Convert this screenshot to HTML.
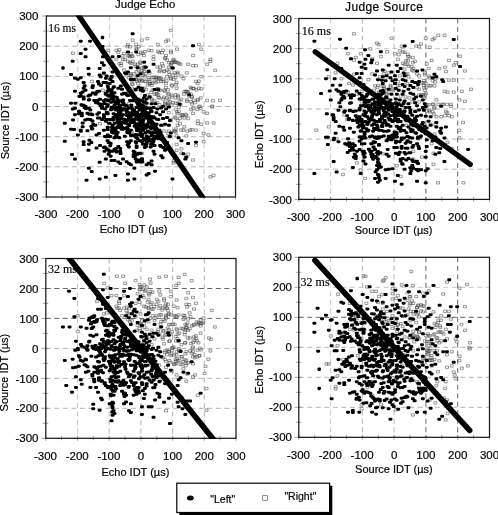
<!DOCTYPE html>
<html lang="en"><head><meta charset="utf-8"><title>Scatter plots: Judge Echo / Judge Source</title>
<style>html,body{margin:0;padding:0;background:#fff}body{width:498px;height:515px;overflow:hidden}svg{display:block}.s{font-family:"Liberation Sans",sans-serif;font-size:11px;fill:#000;stroke:#000;stroke-width:.18}.k{font-size:11.5px}.t{font-family:"Liberation Serif",serif;fill:#000;stroke:#000;stroke-width:.15}.g{stroke:#666;stroke-width:.5;stroke-dasharray:5 3.5;fill:none}.gl{stroke:#999;stroke-width:.55;stroke-dasharray:5 3.5;fill:none}.gd{stroke:#222;stroke-width:.7;stroke-dasharray:5 3.5;fill:none}.tk{stroke:#666;stroke-width:.6}.f{fill:#000;stroke:#000;stroke-width:2.3;stroke-linejoin:round}.o{fill:#fff;stroke:#3a3a3a;stroke-width:.5}</style></head><body>
<svg width="498" height="515" viewBox="0 0 498 515">
<rect width="498" height="515" fill="#fff"/>
<g id="tl">
<path class="gl" d="M77.8 16.0V197.0"/>
<path class="g" d="M46.3 166.8H235.5"/>
<path class="gl" d="M109.4 16.0V197.0"/>
<path class="g" d="M46.3 136.7H235.5"/>
<path class="gl" d="M140.9 16.0V197.0"/>
<path class="g" d="M46.3 106.5H235.5"/>
<path class="gl" d="M172.4 16.0V197.0"/>
<path class="g" d="M46.3 76.3H235.5"/>
<path class="gl" d="M204.0 16.0V197.0"/>
<path class="g" d="M46.3 46.2H235.5"/>
<rect x="47.2" y="20.2" width="31" height="14" fill="#fff"/>
<path class="tk" d="M41.8 197.0H48.8"/>
<path class="tk" d="M46.3 194.5V199.5"/>
<path class="tk" d="M43.3 181.9H48.8"/>
<path class="tk" d="M62.1 194.5V199.0"/>
<path class="tk" d="M41.8 166.8H48.8"/>
<path class="tk" d="M77.8 194.5V199.5"/>
<path class="tk" d="M43.3 151.8H48.8"/>
<path class="tk" d="M93.6 194.5V199.0"/>
<path class="tk" d="M41.8 136.7H48.8"/>
<path class="tk" d="M109.4 194.5V199.5"/>
<path class="tk" d="M43.3 121.6H48.8"/>
<path class="tk" d="M125.1 194.5V199.0"/>
<path class="tk" d="M41.8 106.5H48.8"/>
<path class="tk" d="M140.9 194.5V199.5"/>
<path class="tk" d="M43.3 91.4H48.8"/>
<path class="tk" d="M156.7 194.5V199.0"/>
<path class="tk" d="M41.8 76.3H48.8"/>
<path class="tk" d="M172.4 194.5V199.5"/>
<path class="tk" d="M43.3 61.3H48.8"/>
<path class="tk" d="M188.2 194.5V199.0"/>
<path class="tk" d="M41.8 46.2H48.8"/>
<path class="tk" d="M204.0 194.5V199.5"/>
<path class="tk" d="M43.3 31.1H48.8"/>
<path class="tk" d="M219.7 194.5V199.0"/>
<path class="tk" d="M41.8 16.0H48.8"/>
<path class="tk" d="M235.5 194.5V199.5"/>
<path class="o" d="M131.2 38.9h3v2.4h-3zm3.5 4.2h3v2.4h-3zm-8.3 0.6h3v2.4h-3zm2 1.9h3v2.4h-3zm-21.6 3.5h3v2.4h-3zm8.1 0h3v2.4h-3zm2.9 -0.6h3v2.4h-3zm-1 2.5h3v2.4h-3zm12.5 1.4h3v2.4h-3zm5.8 -3.9h3v2.4h-3zm-12.5 3.9h3v2.4h-3zm5.2 1.9h3v2.4h-3zm2.5 1h3v2.4h-3zm6.7 -1.9h3v2.4h-3zm-22.1 4.8h3v2.4h-3zm6.7 0h3v2.4h-3zm4.8 1.9h3v2.4h-3zm4.8 0h3v2.4h-3zm-13.4 2.5h3v2.4h-3zm1.9 1.9h3v2.4h-3zm16.4 -1.5h3v2.4h-3zm2.9 -1h3v2.4h-3zm-2.9 3.9h3v2.4h-3zm-64.6 -13.9h3v2.4h-3zm51.1 16.8h3v2.4h-3zm6.7 3.8h3v2.4h-3zm2.9 0h3v2.4h-3zm2.9 -1.9h3v2.4h-3zm-7.7 5.8h3v2.4h-3zm2.9 2.9h3v2.4h-3zm4.8 -1h3v2.4h-3zm2.9 1h3v2.4h-3zm-6.8 3.8h3v2.4h-3zm5.4 -0.9h3v2.4h-3zm-6.3 4.8h3v2.4h-3zm-39.9 -6.8h3v2.4h-3zm11 8.7h3v2.4h-3zm0.9 -16.4h3v2.4h-3zm3.9 3.9h3v2.4h-3zm21.2 26h3v2.4h-3zm41.9 -73.2h3v2.4h-3zm-23.5 8.1h3v2.4h-3zm-5.4 1.5h3v2.4h-3zm26.1 0h3v2.4h-3zm-2 1.3h3v2.4h-3zm-8.1 3.1h3v2.4h-3zm40.9 0h3v2.4h-3zm2.5 4.7h3v2.4h-3zm-52.6 1.1h3v2.4h-3zm2.9 0.4h3v2.4h-3zm-6.8 1h3v2.4h-3zm18.3 -1.4h3v2.4h-3zm-3.8 2.3h3v2.4h-3zm11.5 0h3v2.4h-3zm6.2 -3.4h3v2.4h-3zm-33.1 6.3h3v2.4h-3zm9.6 1h3v2.4h-3zm12.5 -1h3v2.4h-3zm27 0h3v2.4h-3zm-39.5 3.9h3v2.4h-3zm11.6 -1h3v2.4h-3zm8.6 1h3v2.4h-3zm36.7 0h3v2.4h-3zm0 1.9h3v2.4h-3zm-3.3 2.9h3v2.4h-3zm-38.2 -1.5h3v2.4h-3zm2.9 0h3v2.4h-3zm2.9 -0.4h3v2.4h-3zm2.9 0.4h3v2.4h-3zm2.9 1.5h3v2.4h-3zm7.7 0h3v2.4h-3zm4.8 1.5h3v2.4h-3zm2.9 0h3v2.4h-3zm-32.8 0.4h3v2.4h-3zm-2.9 1h3v2.4h-3zm-2.9 0h3v2.4h-3zm11.6 0h3v2.4h-3zm2.9 0.9h3v2.4h-3zm-27 -0.9h3v2.4h-3zm-2.9 0.9h3v2.4h-3zm73.3 2.4h3v2.4h-3zm-55.9 1.1h3v2.4h-3zm4.8 0h3v2.4h-3zm4.8 0.4h3v2.4h-3zm5.8 1h3v2.4h-3zm2.9 0.9h3v2.4h-3zm9.2 -0.9h3v2.4h-3zm-5.4 3.2h3v2.4h-3zm19.9 0.6h3v2.4h-3zm-59.4 -3.8h3v2.4h-3zm3.9 0.9h3v2.4h-3zm3.8 -0.9h3v2.4h-3zm-4.8 3.8h3v2.4h-3zm3.9 1h3v2.4h-3zm3.8 0h3v2.4h-3zm3.9 -0.4h3v2.4h-3zm2.9 1.4h3v2.4h-3zm3.8 0.5h3v2.4h-3zm3.9 -2.5h3v2.4h-3zm3.8 1.4h3v2.4h-3zm2.9 1.1h3v2.4h-3zm-31.8 1.4h3v2.4h-3zm3.9 0.9h3v2.4h-3zm3.8 0h3v2.4h-3zm4.9 -0.3h3v2.4h-3zm3.8 0.3h3v2.4h-3zm2.9 0h3v2.4h-3zm4.8 2h3v2.4h-3zm10.6 -1h3v2.4h-3zm19.3 -1h3v2.4h-3zm2.9 -0.3h3v2.4h-3zm-51.1 3.8h3v2.4h-3zm3.9 0.4h3v2.4h-3zm20.2 -0.4h3v2.4h-3zm-27.9 3.3h3v2.4h-3zm32.7 0h3v2.4h-3zm13.9 -1h3v2.4h-3zm3.1 1h3v2.4h-3zm5.2 0h3v2.4h-3zm2.5 0.6h3v2.4h-3zm-48.8 1.3h3v2.4h-3zm3.9 -0.4h3v2.4h-3zm3.8 0.4h3v2.4h-3zm3.9 0h3v2.4h-3zm3.9 -0.4h3v2.4h-3zm18.3 1.4h3v2.4h-3zm1.9 1.9h3v2.4h-3zm-4.2 1h3v2.4h-3zm-15.1 0h3v2.4h-3zm6.8 0.6h3v2.4h-3zm-21.2 -0.6h3v2.4h-3zm3.8 0.9h3v2.4h-3zm30.9 1h3v2.4h-3zm2.8 0.6h3v2.4h-3zm8.7 1.3h3v2.4h-3zm-2.9 1.4h3v2.4h-3zm9.3 1.1h3v2.4h-3zm5.8 0.4h3v2.4h-3zm7.1 -0.4h3v2.4h-3zm-32.8 0.8h3v2.4h-3zm3.9 0.6h3v2.4h-3zm3.8 0.9h3v2.4h-3zm-35.6 -4.8h3v2.4h-3zm3.8 1h3v2.4h-3zm3.9 -1h3v2.4h-3zm4.8 -0.9h3v2.4h-3zm3.9 0.9h3v2.4h-3zm3.8 2.9h3v2.4h-3zm-9.6 1h3v2.4h-3zm2.9 0.9h3v2.4h-3zm-7.7 1h3v2.4h-3zm2.9 1.4h3v2.4h-3zm31.8 1.1h3v2.4h-3zm12.5 0h3v2.4h-3zm-34.7 -2.5h3v2.4h-3zm2.9 1h3v2.4h-3zm-28.9 -5.8h3v2.4h-3zm2.9 1.9h3v2.4h-3zm2.8 1.9h3v2.4h-3zm-9.6 -7.7h3v2.4h-3zm-47.7 28.7h3v2.4h-3zm31.8 7.7h3v2.4h-3zm43.9 -21.9h3v2.4h-3zm15.4 0h3v2.4h-3zm7.7 -2.5h3v2.4h-3zm13.5 0h3v2.4h-3zm-43.4 5.7h3v2.4h-3zm8.7 1h3v2.4h-3zm15.4 -0.4h3v2.4h-3zm10.6 -1.5h3v2.4h-3zm3.5 1.5h3v2.4h-3zm-25.7 2h3v2.4h-3zm4.9 0h3v2.4h-3zm-2 2.7h3v2.4h-3zm3.9 0.5h3v2.4h-3zm-12.5 -0.5h3v2.4h-3zm1.9 2.5h3v2.4h-3zm-6.8 -1h3v2.4h-3zm27 1.5h3v2.4h-3zm0 2.7h3v2.4h-3zm3.5 0.6h3v2.4h-3zm5.8 -1.3h3v2.4h-3zm6.5 0h3v2.4h-3zm-36 2.3h3v2.4h-3zm6.7 1.5h3v2.4h-3zm-8.6 2.3h3v2.4h-3zm14.4 1h3v2.4h-3zm-2.9 1h3v2.4h-3zm-3.8 -1h3v2.4h-3zm12.5 0h3v2.4h-3zm-27 1h3v2.4h-3zm6.8 0.9h3v2.4h-3zm-11.6 -0.9h3v2.4h-3zm39.5 2.3h3v2.4h-3zm4.8 1.5h3v2.4h-3zm-22.1 1h3v2.4h-3zm-9.7 0h3v2.4h-3zm-7.7 0.9h3v2.4h-3zm34.7 4.9h3v2.4h-3zm-7.7 3.8h3v2.4h-3zm-19.3 -0.9h3v2.4h-3zm4.8 4.2h3v2.4h-3zm-4.8 1.5h3v2.4h-3zm11.6 3.9h3v2.4h-3zm-6.8 -1h3v2.4h-3zm4.9 3.9h3v2.4h-3zm6.7 2.9h3v2.4h-3zm-19.3 0.9h3v2.4h-3zm0 2h3v2.4h-3zm36.7 14h3v2.4h-3zm3.2 -1.5h3v2.4h-3zm-66.9 -51.1h3v2.4h-3zm-4.8 28.9h3v2.4h-3zm21.2 -27.9h3v2.4h-3zm-24.4 -78.7h3v2.4h-3zm-11.3 0h3v2.4h-3zm5.1 9.4h3v2.4h-3zm3.8 -7.5h3v2.4h-3zm-13.7 7.4h3v2.4h-3zm5.2 0h3v2.4h-3zm2.1 0.7h3v2.4h-3zm11 -3.9h3v2.4h-3zm-16.1 6.7h3v2.4h-3zm5.1 3h3v2.4h-3zm1.4 1h3v2.4h-3zm-10.2 -0.2h3v2.4h-3zm13.9 1h3v2.4h-3zm5.2 -2h3v2.4h-3zm-4.5 4.1h3v2.4h-3zm-5.9 9.3h3v2.4h-3zm1.3 -0.5h3v2.4h-3zm7.3 -5.2h3v2.4h-3zm-7.3 8.9h3v2.4h-3zm2.8 0.7h3v2.4h-3zm2 -0.5h3v2.4h-3zm6.2 2.1h3v2.4h-3zm-10.1 2.9h3v2.4h-3zm4.9 -2.8h3v2.4h-3zm5.8 -27.8h3v2.4h-3zm19.3 -0.8h3v2.4h-3zm-4 -1.2h3v2.4h-3zm12.9 -0.4h3v2.4h-3zm-5.6 6.9h3v2.4h-3zm1.8 2.1h3v2.4h-3zm7.3 1.5h3v2.4h-3zm-3.2 1.5h3v2.4h-3zm1.7 -2.6h3v2.4h-3zm3 1.6h3v2.4h-3zm3 1.5h3v2.4h-3zm-16.9 0.3h3v2.4h-3zm9.1 1.4h3v2.4h-3zm0.6 2h3v2.4h-3zm-28 1.1h3v2.4h-3zm0.7 -1.5h3v2.4h-3zm15.7 3.7h3v2.4h-3zm4.3 0.5h3v2.4h-3zm2.8 -0.9h3v2.4h-3zm6 4.9h3v2.4h-3zm4.4 -2.7h3v2.4h-3zm5.9 6.4h3v2.4h-3zm-41.9 -7.7h3v2.4h-3zm2.6 0.7h3v2.4h-3zm4.6 -0.9h3v2.4h-3zm-5.4 4.6h3v2.4h-3zm5.7 4.3h3v2.4h-3zm4.7 -2.5h3v2.4h-3zm2.2 0.2h3v2.4h-3zm2.7 0.5h3v2.4h-3zm2.1 0.1h3v2.4h-3zm8.6 -3.2h3v2.4h-3zm1.4 4h3v2.4h-3zm4.8 -1.1h3v2.4h-3zm-34.9 1.6h3v2.4h-3zm4.6 1.9h3v2.4h-3zm6.7 2.1h3v2.4h-3zm4.4 -4.6h3v2.4h-3zm-0.5 3.9h3v2.4h-3zm7.4 -1.2h3v2.4h-3zm3.2 -0.5h3v2.4h-3zm9.5 3.8h3v2.4h-3zm21.6 -1.4h3v2.4h-3zm-47.4 0.4h3v2.4h-3zm-0.6 -0.1h3v2.4h-3zm22.3 2.3h3v2.4h-3zm-25.7 3.6h3v2.4h-3zm45.1 -0.8h3v2.4h-3zm2.1 -0.1h3v2.4h-3zm3 1.2h3v2.4h-3zm-45.3 2.6h3v2.4h-3zm6.1 -3.6h3v2.4h-3zm1.1 0.1h3v2.4h-3zm6.5 2.3h3v2.4h-3zm1.2 -3.6h3v2.4h-3zm20.4 4h3v2.4h-3zm1.2 0.1h3v2.4h-3zm-3.1 -0.1h3v2.4h-3zm-16.6 2.3h3v2.4h-3zm10.2 1.6h3v2.4h-3zm-21.6 -1.5h3v2.4h-3zm0.4 -0.3h3v2.4h-3zm34.7 3.4h3v2.4h-3zm-0.6 -3h3v2.4h-3zm6.8 6.1h3v2.4h-3zm-11 -0.3h3v2.4h-3zm5.2 4.1h3v2.4h-3zm1.5 -3.7h3v2.4h-3zm-35 -2.8h3v2.4h-3zm5.5 -0.2h3v2.4h-3zm4.5 1.8h3v2.4h-3zm3.3 -3.6h3v2.4h-3zm6.3 1.4h3v2.4h-3zm3.1 2.5h3v2.4h-3zm-12.7 3.8h3v2.4h-3zm3.2 1.9h3v2.4h-3zm-6.6 -3h3v2.4h-3zm1.5 2.6h3v2.4h-3zm34.1 3.8h3v2.4h-3zm-24.9 -5.4h3v2.4h-3zm3.2 4.1h3v2.4h-3zm-29.3 -10.6h3v2.4h-3zm2.5 3.6h3v2.4h-3zm7.2 4.5h3v2.4h-3zm17.5 7.4h3v2.4h-3zm16.4 -3.5h3v2.4h-3zm3.9 0.7h3v2.4h-3zm-18.3 2h3v2.4h-3zm3.4 3.4h3v2.4h-3zm3.3 -0.3h3v2.4h-3zm-3 1h3v2.4h-3zm-8 1.8h3v2.4h-3zm5.4 1.3h3v2.4h-3zm0 5.3h3v2.4h-3zm-5 7h3v2.4h-3zm16.8 -1.1h3v2.4h-3zm-10.7 0.3h3v2.4h-3zm-12.9 3.3h3v2.4h-3zm5.9 -2h3v2.4h-3z"/>
<path class="f" d="M131.8 33.5h1.7v.7h-1.7zm-51.9 7.4h1.7v.7h-1.7zm9.3 0h1.7v.7h-1.7zm12.5 5.2h1.7v.7h-1.7zm-17 2.8h1.7v.7h-1.7zm-4.8 4.3h1.7v.7h-1.7zm4.8 3.3h1.7v.7h-1.7zm-12.9 4.4h1.7v.7h-1.7zm30.3 -4.4h1.7v.7h-1.7zm2.9 -2.3h1.7v.7h-1.7zm6.7 2.3h1.7v.7h-1.7zm6.4 -0.4h1.7v.7h-1.7zm9 -4.5h1.7v.7h-1.7zm8.2 0h1.7v.7h-1.7zm-34.2 10.8h1.7v.7h-1.7zm-13.5 5.7h1.7v.7h-1.7zm11.2 0h1.7v.7h-1.7zm4.2 -3.2h1.7v.7h-1.7zm27 2.5h1.7v.7h-1.7zm6.8 0h1.7v.7h-1.7zm-33.8 5.2h1.7v.7h-1.7zm8.7 -1h1.7v.7h-1.7zm12.5 1h1.7v.7h-1.7zm2.9 -1h1.7v.7h-1.7zm-56.9 2.5h1.7v.7h-1.7zm3.9 3.7h1.7v.7h-1.7zm2.9 1.1h1.7v.7h-1.7zm2.9 -1.5h1.7v.7h-1.7zm8.1 -3.5h1.7v.7h-1.7zm11.8 2.5h1.7v.7h-1.7zm5.2 1.4h1.7v.7h-1.7zm5.7 -0.8h1.7v.7h-1.7zm-27.9 5.2h1.7v.7h-1.7zm14.4 -1h1.7v.7h-1.7zm7.8 1h1.7v.7h-1.7zm3.8 1h1.7v.7h-1.7zm2.9 -2h1.7v.7h-1.7zm-27.9 4.3h1.7v.7h-1.7zm8.2 0h1.7v.7h-1.7zm8.1 -0.4h1.7v.7h-1.7zm6.8 1h1.7v.7h-1.7zm5.8 0.9h1.7v.7h-1.7zm4.8 1h1.7v.7h-1.7zm3.7 1h1.7v.7h-1.7zm-47.1 1.9h1.7v.7h-1.7zm5.8 1.9h1.7v.7h-1.7zm4.8 -2.9h1.7v.7h-1.7zm11 2.5h1.7v.7h-1.7zm2.5 -1.5h1.7v.7h-1.7zm8.7 0h1.7v.7h-1.7zm3.8 0.9h1.7v.7h-1.7zm2 1h1.7v.7h-1.7zm-7.7 1h1.7v.7h-1.7zm-25.1 1.9h1.7v.7h-1.7zm2.9 1h1.7v.7h-1.7zm4.8 -1h1.7v.7h-1.7zm1.9 -1h1.7v.7h-1.7zm19.3 0h1.7v.7h-1.7zm2.9 1h1.7v.7h-1.7zm2.9 1h1.7v.7h-1.7zm6.6 -2.9h1.7v.7h-1.7zm5 0.9h1.7v.7h-1.7zm-38.2 4.9h1.7v.7h-1.7zm5.4 0.5h1.7v.7h-1.7zm2.8 0.4h1.7v.7h-1.7zm3 -1.5h1.7v.7h-1.7zm3.8 1.5h1.7v.7h-1.7zm4.9 -0.9h1.7v.7h-1.7zm4.8 0.9h1.7v.7h-1.7zm5.8 0h1.7v.7h-1.7zm3.7 -0.9h1.7v.7h-1.7zm-52 3.2h1.7v.7h-1.7zm4.3 0h1.7v.7h-1.7zm8.3 2h1.7v.7h-1.7zm1.9 1.4h1.7v.7h-1.7zm13.5 -2.8h1.7v.7h-1.7zm2.9 1h1.7v.7h-1.7zm5.8 0h1.7v.7h-1.7zm6.7 0.8h1.7v.7h-1.7zm3.9 -1.8h1.7v.7h-1.7zm4.7 1h1.7v.7h-1.7zm9.6 -3.9h1.7v.7h-1.7zm2 -3.8h1.7v.7h-1.7zm3 1.9h1.7v.7h-1.7zm-2 -9.6h1.7v.7h-1.7zm2.9 -2h1.7v.7h-1.7zm2 2.9h1.7v.7h-1.7zm-9.7 -10.7h1.7v.7h-1.7zm2.8 0h1.7v.7h-1.7zm-7.6 -5.7h1.7v.7h-1.7zm11.6 2h1.7v.7h-1.7zm2.9 -2h1.7v.7h-1.7zm52.5 -28h1.7v.7h-1.7zm-48.9 16.4h1.7v.7h-1.7zm9.4 2h1.7v.7h-1.7zm-4.9 7.3h1.7v.7h-1.7zm-6.7 16.8h1.7v.7h-1.7zm1 2.9h1.7v.7h-1.7zm11.6 -1.7h1.7v.7h-1.7zm3.8 0.3h1.7v.7h-1.7zm-14.4 8.1h1.7v.7h-1.7zm2.7 1h1.7v.7h-1.7zm3 -1.9h1.7v.7h-1.7zm-7.7 3.8h1.7v.7h-1.7zm2.9 1h1.7v.7h-1.7zm6.8 1.9h1.7v.7h-1.7zm3.8 0h1.7v.7h-1.7zm-12.5 1.8h1.7v.7h-1.7zm20.1 0.7h1.7v.7h-1.7zm16.5 -1.9h1.7v.7h-1.7zm9.6 -9.6h1.7v.7h-1.7zm-16.3 -26.7h1.7v.7h-1.7zm-27 -0.9h1.7v.7h-1.7zm-70.9 41.2h1.7v.7h-1.7zm9.7 -0.8h1.7v.7h-1.7zm5.7 2.4h1.7v.7h-1.7zm11.6 -1.6h1.7v.7h-1.7zm2.9 0.6h1.7v.7h-1.7zm8.7 -1h1.7v.7h-1.7zm2.9 2h1.7v.7h-1.7zm3.8 -2.4h1.7v.7h-1.7zm4.8 1.4h1.7v.7h-1.7zm3.9 -1h1.7v.7h-1.7zm3.7 1.6h1.7v.7h-1.7zm4 -2h1.7v.7h-1.7zm2.9 2.4h1.7v.7h-1.7zm-64.6 4.8h1.7v.7h-1.7zm3.9 -1h1.7v.7h-1.7zm2.9 -0.4h1.7v.7h-1.7zm5.7 0h1.7v.7h-1.7zm4.9 1.4h1.7v.7h-1.7zm6.7 -2h1.7v.7h-1.7zm4.8 2h1.7v.7h-1.7zm3.9 -1h1.7v.7h-1.7zm5.8 0h1.7v.7h-1.7zm2.9 1h1.7v.7h-1.7zm3.8 -2h1.7v.7h-1.7zm2.8 2h1.7v.7h-1.7zm4 -1.4h1.7v.7h-1.7zm3.8 0.8h1.7v.7h-1.7zm3.8 -1.4h1.7v.7h-1.7zm3.9 2h1.7v.7h-1.7zm-65.5 5.2h1.7v.7h-1.7zm14.4 -0.8h1.7v.7h-1.7zm2.9 0.4h1.7v.7h-1.7zm7.7 -1.5h1.7v.7h-1.7zm5.8 0h1.7v.7h-1.7zm2.9 1.5h1.7v.7h-1.7zm6.8 -2h1.7v.7h-1.7zm3.8 1.6h1.7v.7h-1.7zm3.9 -1.6h1.7v.7h-1.7zm3.8 2h1.7v.7h-1.7zm3.9 -1.5h1.7v.7h-1.7zm4.7 1.1h1.7v.7h-1.7zm4 -1.6h1.7v.7h-1.7zm2.9 2.4h1.7v.7h-1.7zm-75.8 3.4h1.7v.7h-1.7zm17.9 -0.3h1.7v.7h-1.7zm10.6 1.3h1.7v.7h-1.7zm2 1h1.7v.7h-1.7zm14.4 -2h1.7v.7h-1.7zm2.9 2h1.7v.7h-1.7zm4.8 -2.9h1.7v.7h-1.7zm3.9 1.3h1.7v.7h-1.7zm3.8 -0.7h1.7v.7h-1.7zm3.9 1.3h1.7v.7h-1.7zm3.7 -1.9h1.7v.7h-1.7zm4 1.3h1.7v.7h-1.7zm3.9 -0.4h1.7v.7h-1.7zm-69.5 5.8h1.7v.7h-1.7zm3 0.4h1.7v.7h-1.7zm8.6 -2.7h1.7v.7h-1.7zm-1.9 3.3h1.7v.7h-1.7zm6.7 0.5h1.7v.7h-1.7zm4.9 -2h1.7v.7h-1.7zm11.5 1.5h1.7v.7h-1.7zm3.9 -2.9h1.7v.7h-1.7zm4.8 2.9h1.7v.7h-1.7zm2.9 -1.5h1.7v.7h-1.7zm3.9 -1.4h1.7v.7h-1.7zm3.7 1.9h1.7v.7h-1.7zm4 -1.6h1.7v.7h-1.7zm3.8 2.6h1.7v.7h-1.7zm3.8 -3.9h1.7v.7h-1.7zm3.9 1.9h1.7v.7h-1.7zm-60.7 6.8h1.7v.7h-1.7zm18.7 0h1.7v.7h-1.7zm2.5 -1.5h1.7v.7h-1.7zm8.7 1.5h1.7v.7h-1.7zm-1 1.9h1.7v.7h-1.7zm6.8 -3.8h1.7v.7h-1.7zm2.9 1.9h1.7v.7h-1.7zm12.5 -1.9h1.7v.7h-1.7zm5.7 2.9h1.7v.7h-1.7zm3.9 -1h1.7v.7h-1.7zm2 -2.9h1.7v.7h-1.7zm-75.8 9.3h1.7v.7h-1.7zm18.9 0.3h1.7v.7h-1.7zm0 2.9h1.7v.7h-1.7zm5.8 -4.2h1.7v.7h-1.7zm1.9 2.2h1.7v.7h-1.7zm17.4 0h1.7v.7h-1.7zm1.9 1h1.7v.7h-1.7zm3.8 -5.7h1.7v.7h-1.7zm4.9 0h1.7v.7h-1.7zm7.7 3.8h1.7v.7h-1.7zm3.8 -1h1.7v.7h-1.7zm4.8 1h1.7v.7h-1.7zm3.9 -1h1.7v.7h-1.7zm-51.1 9.7h1.7v.7h-1.7zm8.1 -2.3h1.7v.7h-1.7zm3.5 -2.5h1.7v.7h-1.7zm3.8 1.9h1.7v.7h-1.7zm2.9 1.4h1.7v.7h-1.7zm2 1.5h1.7v.7h-1.7zm5.7 -0.9h1.7v.7h-1.7zm3.9 -2.9h1.7v.7h-1.7zm1.9 1.9h1.7v.7h-1.7zm-3.8 3.5h1.7v.7h-1.7zm3.8 -0.6h1.7v.7h-1.7zm8.7 -4.4h1.7v.7h-1.7zm7.7 0.5h1.7v.7h-1.7zm-64.6 7.1h1.7v.7h-1.7zm2.9 4.5h1.7v.7h-1.7zm24.7 3.3h1.7v.7h-1.7zm6.2 -3.3h1.7v.7h-1.7zm4.8 -2.9h1.7v.7h-1.7zm0.9 4.3h1.7v.7h-1.7zm2.9 0h1.7v.7h-1.7zm3.9 1.5h1.7v.7h-1.7zm1.9 1.5h1.7v.7h-1.7zm2.8 -4.4h1.7v.7h-1.7zm5.9 4.4h1.7v.7h-1.7zm1.9 1.4h1.7v.7h-1.7zm3.8 -12.5h1.7v.7h-1.7zm3 1.8h1.7v.7h-1.7zm-4 2.4h1.7v.7h-1.7zm2 2.5h1.7v.7h-1.7zm3.9 -5.9h1.7v.7h-1.7zm1 8.8h1.7v.7h-1.7zm-3.9 0h1.7v.7h-1.7zm-47.8 6.2h1.7v.7h-1.7zm2.9 3.4h1.7v.7h-1.7zm23.7 3.9h1.7v.7h-1.7zm12.5 -1.5h1.7v.7h-1.7zm6.4 -5.8h1.7v.7h-1.7zm-47.8 12h1.7v.7h-1.7zm13.1 -1.2h1.7v.7h-1.7zm6.2 -1.6h1.7v.7h-1.7zm22.1 2.8h1.7v.7h-1.7zm6.4 -1.2h1.7v.7h-1.7zm7.6 -71h1.7v.7h-1.7zm3.9 -0.9h1.7v.7h-1.7zm3.8 1.3h1.7v.7h-1.7zm3.9 -0.8h1.7v.7h-1.7zm3.8 1.4h1.7v.7h-1.7zm3.8 -1h1.7v.7h-1.7zm4.9 1h1.7v.7h-1.7zm2.9 -1.9h1.7v.7h-1.7zm-26 4.8h1.7v.7h-1.7zm4.7 0.9h1.7v.7h-1.7zm4 -1.3h1.7v.7h-1.7zm4.8 1.3h1.7v.7h-1.7zm3.7 2h1.7v.7h-1.7zm2.9 -2.9h1.7v.7h-1.7zm-21.1 4.7h1.7v.7h-1.7zm3.9 1h1.7v.7h-1.7zm4.8 -1h1.7v.7h-1.7zm3.9 1.5h1.7v.7h-1.7zm3.8 1.5h1.7v.7h-1.7zm4.7 -1h1.7v.7h-1.7zm4 -1h1.7v.7h-1.7zm2.9 3h1.7v.7h-1.7zm-27 0.9h1.7v.7h-1.7zm5.7 1h1.7v.7h-1.7zm3.9 0.9h1.7v.7h-1.7zm3.9 1h1.7v.7h-1.7zm4.7 1h1.7v.7h-1.7zm3.9 -1h1.7v.7h-1.7zm3.9 1h1.7v.7h-1.7zm-27 0.9h1.7v.7h-1.7zm4.7 1h1.7v.7h-1.7zm4 0.9h1.7v.7h-1.7zm4.8 1h1.7v.7h-1.7zm3.9 1h1.7v.7h-1.7zm-16.4 0h1.7v.7h-1.7zm4.7 1h1.7v.7h-1.7zm4.9 0.9h1.7v.7h-1.7zm4.8 1h1.7v.7h-1.7zm-15.4 1.9h1.7v.7h-1.7zm4.7 1h1.7v.7h-1.7zm5 -1h1.7v.7h-1.7zm4.8 1.9h1.7v.7h-1.7zm4.7 -1.9h1.7v.7h-1.7zm-17.2 3.9h1.7v.7h-1.7zm4.7 0.8h1.7v.7h-1.7zm4.9 1h1.7v.7h-1.7zm4.8 -1.8h1.7v.7h-1.7zm5.7 1.8h1.7v.7h-1.7zm-22.1 1h1.7v.7h-1.7zm4.7 0.9h1.7v.7h-1.7zm5 -0.9h1.7v.7h-1.7zm15.4 0.9h1.7v.7h-1.7zm-22.2 4.9h1.7v.7h-1.7zm5.8 -0.5h1.7v.7h-1.7zm3.9 -1.4h1.7v.7h-1.7zm5.6 0h1.7v.7h-1.7zm2.9 1.9h1.7v.7h-1.7zm-9.5 3.9h1.7v.7h-1.7zm1 2.8h1.7v.7h-1.7zm10.5 -3.8h1.7v.7h-1.7zm-3.9 5.3h1.7v.7h-1.7zm1.5 2h1.7v.7h-1.7zm-20.7 1.4h1.7v.7h-1.7zm0.4 2.9h1.7v.7h-1.7zm9.3 -1h1.7v.7h-1.7zm-5 3.9h1.7v.7h-1.7zm5 0h1.7v.7h-1.7zm3.4 6.3h1.7v.7h-1.7zm-6.4 2.4h1.7v.7h-1.7zm-2 1.5h1.7v.7h-1.7zm25.8 3.9h1.7v.7h-1.7zm-1.6 -45.9h1.7v.7h-1.7zm-0.9 3.5h1.7v.7h-1.7zm8.7 1.3h1.7v.7h-1.7zm2.8 2.8h1.7v.7h-1.7zm6.7 2.9h1.7v.7h-1.7zm7.8 -1.4h1.7v.7h-1.7zm-12.5 11.7h1.7v.7h-1.7zm2.9 3.3h1.7v.7h-1.7zm-1 1.9h1.7v.7h-1.7zm-85.6 -84.1h1.7v.7h-1.7zm6.9 1h1.7v.7h-1.7zm5.1 0.6h1.7v.7h-1.7zm-8.2 6h1.7v.7h-1.7zm3.7 0.7h1.7v.7h-1.7zm3.1 -3.8h1.7v.7h-1.7zm-17.9 8.1h1.7v.7h-1.7zm6.5 -3.5h1.7v.7h-1.7zm9.5 4.7h1.7v.7h-1.7zm5.5 -1.9h1.7v.7h-1.7zm6.9 -0.9h1.7v.7h-1.7zm-38.2 6.1h1.7v.7h-1.7zm1.1 -3.8h1.7v.7h-1.7zm11.8 6.1h1.7v.7h-1.7zm1.8 -2.8h1.7v.7h-1.7zm11.1 -1h1.7v.7h-1.7zm3.3 -0.7h1.7v.7h-1.7zm-2.5 0.7h1.7v.7h-1.7zm5.2 2.2h1.7v.7h-1.7zm-1.9 0.8h1.7v.7h-1.7zm-6.9 -0.4h1.7v.7h-1.7zm1.7 2h1.7v.7h-1.7zm-27.9 1.3h1.7v.7h-1.7zm4.3 2.6h1.7v.7h-1.7zm5.9 -4.1h1.7v.7h-1.7zm3.2 -1.9h1.7v.7h-1.7zm16.4 3.3h1.7v.7h-1.7zm1.5 -0.4h1.7v.7h-1.7zm2.3 2h1.7v.7h-1.7zm3.8 -0.5h1.7v.7h-1.7zm7.2 -4.3h1.7v.7h-1.7zm4 2.4h1.7v.7h-1.7zm-38.8 4.2h1.7v.7h-1.7zm6.8 3h1.7v.7h-1.7zm1 -1h1.7v.7h-1.7zm0.7 -1.4h1.7v.7h-1.7zm6.9 3.1h1.7v.7h-1.7zm0.9 -3.7h1.7v.7h-1.7zm2.5 1.1h1.7v.7h-1.7zm-1.8 -1.1h1.7v.7h-1.7zm5.6 -0.9h1.7v.7h-1.7zm-0.6 3.4h1.7v.7h-1.7zm6.2 -2.7h1.7v.7h-1.7zm5.1 2.3h1.7v.7h-1.7zm-41.1 3h1.7v.7h-1.7zm4.4 3.7h1.7v.7h-1.7zm14.9 -3h1.7v.7h-1.7zm0 -1.2h1.7v.7h-1.7zm6.3 2.4h1.7v.7h-1.7zm9.8 -2.9h1.7v.7h-1.7zm-0.2 -1.5h1.7v.7h-1.7zm0.3 1.2h1.7v.7h-1.7zm6.7 0h1.7v.7h-1.7zm6.4 -3.1h1.7v.7h-1.7zm4 -3.1h1.7v.7h-1.7zm6 2.6h1.7v.7h-1.7zm-4.4 -10h1.7v.7h-1.7zm9.2 5.6h1.7v.7h-1.7zm-0.8 6.8h1.7v.7h-1.7zm2.6 1h1.7v.7h-1.7zm-4.3 1.8h1.7v.7h-1.7zm-69.5 3.9h1.7v.7h-1.7zm9.5 -3.7h1.7v.7h-1.7zm6.5 2.8h1.7v.7h-1.7zm12.2 -2.1h1.7v.7h-1.7zm1.2 1.1h1.7v.7h-1.7zm9.2 0.1h1.7v.7h-1.7zm-0.4 2.6h1.7v.7h-1.7zm6 -1.7h1.7v.7h-1.7zm-2 1h1.7v.7h-1.7zm4.5 -3.6h1.7v.7h-1.7zm2.5 4.6h1.7v.7h-1.7zm2.8 -1.3h1.7v.7h-1.7zm1.9 -3h1.7v.7h-1.7zm5.2 2.5h1.7v.7h-1.7zm6.4 -2.6h1.7v.7h-1.7zm-1.3 6.5h1.7v.7h-1.7zm2.6 -4.1h1.7v.7h-1.7zm-60.6 3.1h1.7v.7h-1.7zm2.8 4.6h1.7v.7h-1.7zm7.5 -1.5h1.7v.7h-1.7zm1.7 -0.3h1.7v.7h-1.7zm6.3 0.1h1.7v.7h-1.7zm6.7 2.1h1.7v.7h-1.7zm2.8 -3.9h1.7v.7h-1.7zm8.2 3.9h1.7v.7h-1.7zm3.2 0.1h1.7v.7h-1.7zm-0.2 -0.4h1.7v.7h-1.7zm0.8 -3.1h1.7v.7h-1.7zm0.6 -2.5h1.7v.7h-1.7zm1.2 3.2h1.7v.7h-1.7zm1.2 2.2h1.7v.7h-1.7zm7.6 -2.7h1.7v.7h-1.7zm-0.1 2.8h1.7v.7h-1.7zm3.8 -2.4h1.7v.7h-1.7zm-3.8 -0.7h1.7v.7h-1.7zm3.7 -1.5h1.7v.7h-1.7zm2.3 3.6h1.7v.7h-1.7zm5 -0.3h1.7v.7h-1.7zm-1 1.8h1.7v.7h-1.7zm-54.1 3.6h1.7v.7h-1.7zm7.2 1.1h1.7v.7h-1.7zm6.9 -3.1h1.7v.7h-1.7zm2.7 1.6h1.7v.7h-1.7zm3.8 1.6h1.7v.7h-1.7zm10.2 -4h1.7v.7h-1.7zm-3 2.8h1.7v.7h-1.7zm5.5 -2.5h1.7v.7h-1.7zm-3.1 -0.1h1.7v.7h-1.7zm7.9 1.9h1.7v.7h-1.7zm-3.9 0.1h1.7v.7h-1.7zm8.1 1h1.7v.7h-1.7zm-3.3 -0.5h1.7v.7h-1.7zm2.8 -4.3h1.7v.7h-1.7zm4.3 3.3h1.7v.7h-1.7zm2.5 2.6h1.7v.7h-1.7zm-0.4 -0.4h1.7v.7h-1.7zm5.9 -4.9h1.7v.7h-1.7zm-3 0.4h1.7v.7h-1.7zm2.8 3.8h1.7v.7h-1.7zm0 -0.8h1.7v.7h-1.7zm-47.8 6.9h1.7v.7h-1.7zm17.5 -3.3h1.7v.7h-1.7zm4.1 4.3h1.7v.7h-1.7zm-0.9 0.1h1.7v.7h-1.7zm5.3 -5h1.7v.7h-1.7zm0.1 -2.6h1.7v.7h-1.7zm3.5 2.2h1.7v.7h-1.7zm-2.3 3.2h1.7v.7h-1.7zm4.7 -2.4h1.7v.7h-1.7zm2.9 0.4h1.7v.7h-1.7zm1.8 1.1h1.7v.7h-1.7zm1.1 1.4h1.7v.7h-1.7zm1.5 -3.1h1.7v.7h-1.7zm0.8 -1.5h1.7v.7h-1.7zm6.6 2.5h1.7v.7h-1.7zm-1.1 1.4h1.7v.7h-1.7zm5.7 -2.1h1.7v.7h-1.7zm-1.6 0.3h1.7v.7h-1.7zm-60.2 7.8h1.7v.7h-1.7zm11.2 -2.2h1.7v.7h-1.7zm15.6 0.6h1.7v.7h-1.7zm5.9 2.6h1.7v.7h-1.7zm4.2 -4.7h1.7v.7h-1.7zm-2 3.6h1.7v.7h-1.7zm5.3 -5.7h1.7v.7h-1.7zm-3.7 1.6h1.7v.7h-1.7zm3.6 0.9h1.7v.7h-1.7zm3.9 0.7h1.7v.7h-1.7zm3.7 1.1h1.7v.7h-1.7zm0.5 1.5h1.7v.7h-1.7zm6.5 -6.8h1.7v.7h-1.7zm1.1 4.2h1.7v.7h-1.7zm0.4 2h1.7v.7h-1.7zm1 -2.4h1.7v.7h-1.7zm-27.8 8.4h1.7v.7h-1.7zm-5.3 -0.1h1.7v.7h-1.7zm8.7 -4.3h1.7v.7h-1.7zm-1.7 0h1.7v.7h-1.7zm5.7 0.3h1.7v.7h-1.7zm11.5 0.2h1.7v.7h-1.7zm3 2.4h1.7v.7h-1.7zm6.9 0h1.7v.7h-1.7zm-2.9 2.4h1.7v.7h-1.7zm5.9 -2.9h1.7v.7h-1.7zm-3.6 -3.7h1.7v.7h-1.7zm-49.5 13.3h1.7v.7h-1.7zm18.6 -3.5h1.7v.7h-1.7zm2.7 5h1.7v.7h-1.7zm5.8 -9.1h1.7v.7h-1.7zm13 6.4h1.7v.7h-1.7zm7 -0.3h1.7v.7h-1.7zm1.4 -4.2h1.7v.7h-1.7zm-32.6 8.6h1.7v.7h-1.7zm-0.3 4.1h1.7v.7h-1.7zm4.9 0.8h1.7v.7h-1.7zm2.8 -0.6h1.7v.7h-1.7zm3.8 -2.9h1.7v.7h-1.7zm0.2 2.7h1.7v.7h-1.7zm4.3 2.4h1.7v.7h-1.7zm7.2 -8.5h1.7v.7h-1.7zm8.9 1h1.7v.7h-1.7zm-28 8.3h1.7v.7h-1.7zm18 7.5h1.7v.7h-1.7zm7 -10.5h1.7v.7h-1.7zm5.3 1.8h1.7v.7h-1.7zm-5.3 1.7h1.7v.7h-1.7zm1.2 1.7h1.7v.7h-1.7zm-0.5 0h1.7v.7h-1.7zm6.3 -3h1.7v.7h-1.7zm-1.7 8.3h1.7v.7h-1.7zm0 -1.9h1.7v.7h-1.7zm4.7 -52.4h1.7v.7h-1.7zm2.2 1.2h1.7v.7h-1.7zm3.2 -0.4h1.7v.7h-1.7zm-5.1 6h1.7v.7h-1.7zm-1.9 -0.8h1.7v.7h-1.7zm6.8 -0.1h1.7v.7h-1.7zm2.2 -2.9h1.7v.7h-1.7zm-11.4 4.2h1.7v.7h-1.7zm0 3.2h1.7v.7h-1.7zm4.9 -2.1h1.7v.7h-1.7zm-0.9 3.6h1.7v.7h-1.7zm8.9 -1.9h1.7v.7h-1.7zm0.9 -0.8h1.7v.7h-1.7zm3.7 2.6h1.7v.7h-1.7zm-16.1 1.8h1.7v.7h-1.7zm0.6 2.7h1.7v.7h-1.7zm9.5 -1.3h1.7v.7h-1.7zm-3.7 2.3h1.7v.7h-1.7zm4.1 -2.3h1.7v.7h-1.7zm2.3 1.2h1.7v.7h-1.7zm7.2 1.6h1.7v.7h-1.7zm-20.7 0.9h1.7v.7h-1.7zm-1 -1.2h1.7v.7h-1.7zm5.3 1.7h1.7v.7h-1.7zm-0.3 -2h1.7v.7h-1.7zm5.3 2.1h1.7v.7h-1.7zm1.4 1.6h1.7v.7h-1.7zm5.6 1.5h1.7v.7h-1.7zm3.8 2.2h1.7v.7h-1.7zm-18.1 -3h1.7v.7h-1.7zm3.1 -0.8h1.7v.7h-1.7zm3.5 3.5h1.7v.7h-1.7zm-3.6 1h1.7v.7h-1.7zm9.2 -0.2h1.7v.7h-1.7zm4 1.9h1.7v.7h-1.7zm-18.5 0.5h1.7v.7h-1.7zm1.9 1.5h1.7v.7h-1.7zm6.4 1h1.7v.7h-1.7zm-1.3 0.4h1.7v.7h-1.7zm5.6 -2h1.7v.7h-1.7zm-2.5 -3.4h1.7v.7h-1.7zm4.4 3.6h1.7v.7h-1.7zm-0.2 2.4h1.7v.7h-1.7zm7.2 -3h1.7v.7h-1.7zm-16.9 4.1h1.7v.7h-1.7zm4 -2.5h1.7v.7h-1.7zm1.5 3.9h1.7v.7h-1.7zm3.4 -0.1h1.7v.7h-1.7zm0.8 -2.5h1.7v.7h-1.7zm5.2 -0.9h1.7v.7h-1.7zm2.4 2h1.7v.7h-1.7zm-18.9 0.6h1.7v.7h-1.7zm0 4h1.7v.7h-1.7zm3.6 -2.1h1.7v.7h-1.7zm0 1.5h1.7v.7h-1.7zm6.4 -1.2h1.7v.7h-1.7zm-0.7 -2.8h1.7v.7h-1.7zm12.8 1.8h1.7v.7h-1.7zm-19.1 5.1h1.7v.7h-1.7zm5 -2h1.7v.7h-1.7zm1.1 -0.1h1.7v.7h-1.7zm8.9 2.2h1.7v.7h-1.7zm5 2.6h1.7v.7h-1.7zm-24 9.7h1.7v.7h-1.7zm0 1.1h1.7v.7h-1.7zm6.6 3.2h1.7v.7h-1.7zm-20.1 -49.6h1.7v.7h-1.7zm-16.2 14h1.7v.7h-1.7zm14.1 -16.3h1.7v.7h-1.7zm4 6.1h1.7v.7h-1.7zm3.6 -7.2h1.7v.7h-1.7zm-8.3 -16.8h1.7v.7h-1.7zm-4.7 33.2h1.7v.7h-1.7zm3.8 9.8h1.7v.7h-1.7zm-2.6 -8.8h1.7v.7h-1.7zm19.4 -11h1.7v.7h-1.7zm-13 -1.8h1.7v.7h-1.7zm-1.3 17.8h1.7v.7h-1.7zm-8.1 -8.6h1.7v.7h-1.7zm-4.6 -0.7h1.7v.7h-1.7zm18.3 -11.7h1.7v.7h-1.7zm-15 -4.1h1.7v.7h-1.7zm3.5 21.7h1.7v.7h-1.7zm5.6 -19.7h1.7v.7h-1.7zm4 26.2h1.7v.7h-1.7zm-5 -13.5h1.7v.7h-1.7zm13 -2.3h1.7v.7h-1.7zm-21.2 17.3h1.7v.7h-1.7zm7.7 -14.2h1.7v.7h-1.7zm10.9 2.6h1.7v.7h-1.7zm-13.4 -25h1.7v.7h-1.7zm4.2 30.9h1.7v.7h-1.7zm-12 -28.9h1.7v.7h-1.7zm10.6 -8.6h1.7v.7h-1.7zm-3 14.9h1.7v.7h-1.7zm8.5 -3.7h1.7v.7h-1.7zm-15.3 4.9h1.7v.7h-1.7zm9.4 -4.7h1.7v.7h-1.7zm0.6 22.6h1.7v.7h-1.7zm9.6 6.6h1.7v.7h-1.7zm-18.7 -25h1.7v.7h-1.7zm-5.1 21h1.7v.7h-1.7zm5.6 -15h1.7v.7h-1.7zm14.2 0h1.7v.7h-1.7zm-21.7 3.9h1.7v.7h-1.7zm25.5 -0.1h1.7v.7h-1.7z"/>
<path class="f" d="M101.9 37h1.2v1.2h-1.2zm-39.5 30.4h1.2v1.2h-1.2z"/>
<rect x="46.3" y="16.0" width="189.2" height="181.0" fill="none" stroke="#1a1a1a" stroke-width="1.25"/>
<clipPath id="ctl"><rect x="45.7" y="15.4" width="190.4" height="182.2"/></clipPath>
<path clip-path="url(#ctl)" d="M77.6 14.0L203.7 199.0" stroke="#000" stroke-width="5.3" stroke-linecap="round" fill="none"/>
<text class="t" x="48.2" y="31.7" font-size="11.5">16 ms</text>
<text class="s" x="145.2" y="8.0" text-anchor="middle" style="font-size:11.4px;letter-spacing:0px">Judge Echo</text>
<text class="s k" x="38.4" y="201.1" text-anchor="end">-300</text>
<text class="s k" x="46.0" y="218.0" text-anchor="middle">-300</text>
<text class="s k" x="38.4" y="170.9" text-anchor="end">-200</text>
<text class="s k" x="77.5" y="218.0" text-anchor="middle">-200</text>
<text class="s k" x="38.4" y="140.8" text-anchor="end">-100</text>
<text class="s k" x="109.1" y="218.0" text-anchor="middle">-100</text>
<text class="s k" x="38.4" y="110.6" text-anchor="end">0</text>
<text class="s k" x="140.9" y="218.0" text-anchor="middle">0</text>
<text class="s k" x="38.4" y="80.4" text-anchor="end">100</text>
<text class="s k" x="172.4" y="218.0" text-anchor="middle">100</text>
<text class="s k" x="38.4" y="50.3" text-anchor="end">200</text>
<text class="s k" x="204.0" y="218.0" text-anchor="middle">200</text>
<text class="s k" x="38.4" y="20.1" text-anchor="end">300</text>
<text class="s k" x="235.5" y="218.0" text-anchor="middle">300</text>
<text class="s" x="133.6" y="233.0" text-anchor="middle">Echo IDT (µs)</text>
<text class="s" transform="translate(9.2 120.5) rotate(-90)" text-anchor="middle">Source IDT (µs)</text>
</g>
<g id="tr">
<path class="gl" d="M330.6 18.5V199.4"/>
<path class="g" d="M298.8 169.2H489.5"/>
<path class="g" d="M362.4 18.5V199.4"/>
<path class="g" d="M298.8 139.1H489.5"/>
<path class="g" d="M394.1 18.5V199.4"/>
<path class="g" d="M298.8 109.0H489.5"/>
<path class="gd" d="M425.9 18.5V199.4"/>
<path class="gl" d="M298.8 78.8H489.5"/>
<path class="gd" d="M457.7 18.5V199.4"/>
<path class="gl" d="M298.8 48.6H489.5"/>
<rect x="300.8" y="23.0" width="31" height="14" fill="#fff"/>
<path class="tk" d="M294.3 199.4H301.3"/>
<path class="tk" d="M298.8 196.9V201.9"/>
<path class="tk" d="M295.8 184.3H301.3"/>
<path class="tk" d="M314.7 196.9V201.4"/>
<path class="tk" d="M294.3 169.2H301.3"/>
<path class="tk" d="M330.6 196.9V201.9"/>
<path class="tk" d="M295.8 154.2H301.3"/>
<path class="tk" d="M346.5 196.9V201.4"/>
<path class="tk" d="M294.3 139.1H301.3"/>
<path class="tk" d="M362.4 196.9V201.9"/>
<path class="tk" d="M295.8 124.0H301.3"/>
<path class="tk" d="M378.3 196.9V201.4"/>
<path class="tk" d="M294.3 109.0H301.3"/>
<path class="tk" d="M394.1 196.9V201.9"/>
<path class="tk" d="M295.8 93.9H301.3"/>
<path class="tk" d="M410.0 196.9V201.4"/>
<path class="tk" d="M294.3 78.8H301.3"/>
<path class="tk" d="M425.9 196.9V201.9"/>
<path class="tk" d="M295.8 63.7H301.3"/>
<path class="tk" d="M441.8 196.9V201.4"/>
<path class="tk" d="M294.3 48.6H301.3"/>
<path class="tk" d="M457.7 196.9V201.9"/>
<path class="tk" d="M295.8 33.6H301.3"/>
<path class="tk" d="M473.6 196.9V201.4"/>
<path class="tk" d="M294.3 18.5H301.3"/>
<path class="tk" d="M489.5 196.9V201.9"/>
<path class="o" d="M352.4 32.6h3v2.4h-3zm37.6 4.4h3v2.4h-3zm-14.5 4.9h3v2.4h-3zm1.6 1.5h3v2.4h-3zm-8.3 4.2h3v2.4h-3zm-22.2 4.9h3v2.4h-3zm12.6 0h3v2.4h-3zm26.4 -2h3v2.4h-3zm-31.3 5.8h3v2.4h-3zm-1.9 2.5h3v2.4h-3zm18.3 -1.1h3v2.4h-3zm8.7 -2.3h3v2.4h-3zm-3.9 6.7h3v2.4h-3zm-39.5 0h3v2.4h-3zm-1.9 9.6h3v2.4h-3zm-6.8 3.9h3v2.4h-3zm25.1 -2.5h3v2.4h-3zm18.3 -0.4h3v2.4h-3zm12.5 -2.9h3v2.4h-3zm-0.9 2.9h3v2.4h-3zm4.8 -1h3v2.4h-3zm-47.2 5.8h3v2.4h-3zm27 1h3v2.4h-3zm11.5 -2.9h3v2.4h-3zm-30.8 6.7h3v2.4h-3zm3.8 1.6h3v2.4h-3zm22.2 0.8h3v2.4h-3zm2.9 -0.4h3v2.4h-3zm5.8 0.9h3v2.4h-3zm6.7 -0.9h3v2.4h-3zm-42.4 6.7h3v2.4h-3zm8.7 1.9h3v2.4h-3zm4.8 -2.8h3v2.4h-3zm12.5 -1h3v2.4h-3zm4.9 1.9h3v2.4h-3zm5.7 -2.9h3v2.4h-3zm3.9 2.9h3v2.4h-3zm3.9 -2.9h3v2.4h-3zm-46.3 5.8h3v2.4h-3zm25.1 -1h3v2.4h-3zm15.4 1h3v2.4h-3zm-25.1 6.8h3v2.4h-3zm10.6 1.9h3v2.4h-3zm16.4 0.9h3v2.4h-3zm-19.3 2.9h3v2.4h-3zm7.7 -2.9h3v2.4h-3zm15.5 2.9h3v2.4h-3zm45.8 -72.3h3v2.4h-3zm6.2 0h3v2.4h-3zm-10 2.9h3v2.4h-3zm-1.9 1.4h3v2.4h-3zm-6.8 -1.4h3v2.4h-3zm-4.8 5.8h3v2.4h-3zm-1.9 2.5h3v2.4h-3zm-2.9 -0.5h3v2.4h-3zm13.5 1.3h3v2.4h-3zm-28 -0.8h3v2.4h-3zm-1.9 4.3h3v2.4h-3zm4.8 1.5h3v2.4h-3zm-9.6 1.4h3v2.4h-3zm3.8 0.9h3v2.4h-3zm9.1 -0.4h3v2.4h-3zm0 2.4h3v2.4h-3zm5 0.9h3v2.4h-3zm-15 1.9h3v2.4h-3zm10 1.4h3v2.4h-3zm5 1.9h3v2.4h-3zm-8.3 1.6h3v2.4h-3zm2.9 0h3v2.4h-3zm52.6 -8.1h3v2.4h-3zm-28.5 4.2h3v2.4h-3zm17.3 0h3v2.4h-3zm6.8 2.3h3v2.4h-3zm-1.9 2.5h3v2.4h-3zm-27 -1.3h3v2.4h-3zm1.9 4.6h3v2.4h-3zm10.6 0h3v2.4h-3zm5.8 -1.3h3v2.4h-3zm0.9 4.4h3v2.4h-3zm18.9 -0.6h3v2.4h-3zm-51.6 -2.5h3v2.4h-3zm0 2.5h3v2.4h-3zm-8.7 -1.9h3v2.4h-3zm20.2 5.8h3v2.4h-3zm-5.7 0.9h3v2.4h-3zm-2 -1.9h3v2.4h-3zm12.6 3.9h3v2.4h-3zm2.9 2.9h3v2.4h-3zm2.8 -2h3v2.4h-3zm13.5 1.4h3v2.4h-3zm4.9 0h3v2.4h-3zm-29.9 0.6h3v2.4h-3zm1.9 2.8h3v2.4h-3zm-1.9 2h3v2.4h-3zm5.8 0.4h3v2.4h-3zm4.8 0h3v2.4h-3zm-27 -12h3v2.4h-3zm-7.7 1.9h3v2.4h-3zm8.7 1h3v2.4h-3zm-10.6 8.7h3v2.4h-3zm9.6 -2h3v2.4h-3zm11.6 5.8h3v2.4h-3zm5.7 1h3v2.4h-3zm1 2.9h3v2.4h-3zm18.7 -1.9h3v2.4h-3zm3.1 0.9h3v2.4h-3zm6.2 0h3v2.4h-3zm8.1 -0.9h3v2.4h-3zm9.2 -2h3v2.4h-3zm-11.6 10.6h3v2.4h-3zm5.4 1.4h3v2.4h-3zm-28.5 -1.4h3v2.4h-3zm1.9 4.5h3v2.4h-3zm3.9 0h3v2.4h-3zm4.8 0h3v2.4h-3zm3.9 0h3v2.4h-3zm-18.3 0h3v2.4h-3zm-3.9 0.3h3v2.4h-3zm5.8 2.4h3v2.4h-3zm16.4 -0.8h3v2.4h-3zm-45.3 -9.3h3v2.4h-3zm3.8 1h3v2.4h-3zm9.7 -2.9h3v2.4h-3zm3.8 0h3v2.4h-3zm-22.2 1h3v2.4h-3zm11.6 5.8h3v2.4h-3zm6.8 0h3v2.4h-3zm-19.3 -16.4h3v2.4h-3zm-1.9 -3.9h3v2.4h-3zm-81.6 48.6h3v2.4h-3zm12.5 -3.3h3v2.4h-3zm7.8 11.9h3v2.4h-3zm10.6 -19.2h3v2.4h-3zm-2.9 -4.9h3v2.4h-3zm12.5 48.2h3v2.4h-3zm-13.9 11.6h3v2.4h-3zm22.2 3.9h3v2.4h-3zm-4.4 -8.3h3v2.4h-3zm12.5 -22.6h3v2.4h-3zm9.6 6.4h3v2.4h-3zm7.7 -15.1h3v2.4h-3zm-19.2 -29.8h3v2.4h-3zm3.8 0h3v2.4h-3zm13.5 1.9h3v2.4h-3zm-11.6 17.3h3v2.4h-3zm-27 17.4h3v2.4h-3zm66.2 -34.7h3v2.4h-3zm10.6 0h3v2.4h-3zm2.9 1h3v2.4h-3zm2.9 0h3v2.4h-3zm13.4 0h3v2.4h-3zm-9.6 4.8h3v2.4h-3zm4.8 0h3v2.4h-3zm3.9 -1h3v2.4h-3zm3.8 0h3v2.4h-3zm2.9 1h3v2.4h-3zm11.2 5.8h3v2.4h-3zm-3.8 7.7h3v2.4h-3zm0.3 7.7h3v2.4h-3zm-11.9 4.4h3v2.4h-3zm-17 -17.9h3v2.4h-3zm4.8 0h3v2.4h-3zm-0.9 9.6h3v2.4h-3zm5.8 -1.9h3v2.4h-3zm-8.7 11.6h3v2.4h-3zm4.8 3.8h3v2.4h-3zm15.4 1h3v2.4h-3zm-38.5 2.9h3v2.4h-3zm8.7 5.8h3v2.4h-3zm-8.7 1.9h3v2.4h-3zm20.2 -5.8h3v2.4h-3zm0 11h3v2.4h-3zm-36.6 1.5h3v2.4h-3zm3.8 10.6h3v2.4h-3zm37.3 6.4h3v2.4h-3zm25.4 0h3v2.4h-3zm-56.9 -57.5h3v2.4h-3zm11.6 13.5h3v2.4h-3zm-9.6 -19.2h3v2.4h-3zm-31.1 -32.1h3v2.4h-3zm5 -1.3h3v2.4h-3zm8.3 0.6h3v2.4h-3zm-10.4 6.2h3v2.4h-3zm3.6 -4.6h3v2.4h-3zm2.9 5.6h3v2.4h-3zm6.5 -3.4h3v2.4h-3zm9.6 -38.6h3v2.4h-3zm6.4 5h3v2.4h-3zm-3.3 3.6h3v2.4h-3zm8.9 0.7h3v2.4h-3zm-11.9 2h3v2.4h-3zm5.6 2.8h3v2.4h-3zm2.9 0.6h3v2.4h-3zm0.5 3.4h3v2.4h-3zm12.9 3h3v2.4h-3zm3.9 3.1h3v2.4h-3zm6.3 5.7h3v2.4h-3zm-13.3 1.2h3v2.4h-3zm1.9 -0.2h3v2.4h-3zm2.7 4.1h3v2.4h-3zm4.5 -1.4h3v2.4h-3zm-25 -11h3v2.4h-3zm11.2 13.2h3v2.4h-3zm7.1 0.1h3v2.4h-3zm1.1 6.8h3v2.4h-3zm17.9 9.7h3v2.4h-3zm-9.9 -0.2h3v2.4h-3zm-6.5 1h3v2.4h-3zm7.2 3.2h3v2.4h-3zm-12.8 -13.7h3v2.4h-3zm2.1 1.7h3v2.4h-3zm6 14.1h3v2.4h-3zm4.5 3.4h3v2.4h-3zm13.6 -1h3v2.4h-3z"/>
<path class="f" d="M313.5 40.8h1.7v.7h-1.7zm25.6 -1.9h1.7v.7h-1.7zm6.2 9h1.7v.7h-1.7zm18.9 1.5h1.7v.7h-1.7zm15.8 2h1.7v.7h-1.7zm-12.5 3.8h1.7v.7h-1.7zm-17.4 3.3h1.7v.7h-1.7zm14.5 0.5h1.7v.7h-1.7zm6.7 0.6h1.7v.7h-1.7zm-0.9 2.8h1.7v.7h-1.7zm-11.6 -0.5h1.7v.7h-1.7zm4.8 2h1.7v.7h-1.7zm24.2 1h1.7v.7h-1.7zm-27 2h1.7v.7h-1.7zm3.8 1.3h1.7v.7h-1.7zm-24.1 0h1.7v.7h-1.7zm-14.1 1.2h1.7v.7h-1.7zm49.7 1.3h1.7v.7h-1.7zm5.8 -1h1.7v.7h-1.7zm8.7 2h1.7v.7h-1.7zm-34.7 1.5h1.7v.7h-1.7zm4.9 0h1.7v.7h-1.7zm13.4 1.4h1.7v.7h-1.7zm-49.1 3.8h1.7v.7h-1.7zm8.7 0h1.7v.7h-1.7zm25 -0.9h1.7v.7h-1.7zm23.1 -1h1.7v.7h-1.7zm3.9 -1h1.7v.7h-1.7zm3.8 2h1.7v.7h-1.7zm-12.5 1.9h1.7v.7h-1.7zm3.9 0.4h1.7v.7h-1.7zm3.8 0.6h1.7v.7h-1.7zm6.8 0h1.7v.7h-1.7zm-59.8 4.4h1.7v.7h-1.7zm7.7 0h1.7v.7h-1.7zm19.3 -2.6h1.7v.7h-1.7zm3.8 2h1.7v.7h-1.7zm19.3 -1h1.7v.7h-1.7zm-53 7.4h1.7v.7h-1.7zm8.7 0.4h1.7v.7h-1.7zm2.9 0.9h1.7v.7h-1.7zm2.9 -0.7h1.7v.7h-1.7zm12.5 -0.6h1.7v.7h-1.7zm24.1 0h1.7v.7h-1.7zm2.9 1.3h1.7v.7h-1.7zm4.9 -2.9h1.7v.7h-1.7zm-67.6 4.2h1.7v.7h-1.7zm20.3 0.6h1.7v.7h-1.7zm8.6 1h1.7v.7h-1.7zm3.9 0.4h1.7v.7h-1.7zm7.8 -0.4h1.7v.7h-1.7zm2.8 1.9h1.7v.7h-1.7zm1.9 -0.9h1.7v.7h-1.7zm14.5 -1h1.7v.7h-1.7zm10.6 -1h1.7v.7h-1.7zm-60.7 5.8h1.7v.7h-1.7zm10.6 0h1.7v.7h-1.7zm2.9 -1.9h1.7v.7h-1.7zm6.7 0h1.7v.7h-1.7zm8.7 1h1.7v.7h-1.7zm4.8 0.9h1.7v.7h-1.7zm8.7 -0.9h1.7v.7h-1.7zm3.8 -1h1.7v.7h-1.7zm5.8 1h1.7v.7h-1.7zm3.9 -1h1.7v.7h-1.7zm3.8 1.9h1.7v.7h-1.7zm-51.1 2.9h1.7v.7h-1.7zm11.6 0h1.7v.7h-1.7zm14.5 0h1.7v.7h-1.7zm2.9 -0.9h1.7v.7h-1.7zm6.7 0h1.7v.7h-1.7zm3.9 0.9h1.7v.7h-1.7zm4.8 0h1.7v.7h-1.7zm4.9 -0.9h1.7v.7h-1.7zm3.8 1.9h1.7v.7h-1.7zm-52.1 2.9h1.7v.7h-1.7zm21.3 -1h1.7v.7h-1.7zm3.8 1h1.7v.7h-1.7zm4.8 -1h1.7v.7h-1.7zm4.8 1h1.7v.7h-1.7zm5.8 -0.4h1.7v.7h-1.7zm4.8 0.8h1.7v.7h-1.7zm4.8 -0.4h1.7v.7h-1.7zm-16.4 1.8h1.7v.7h-1.7zm4.9 0.5h1.7v.7h-1.7zm4.8 -0.5h1.7v.7h-1.7zm70 -69h1.7v.7h-1.7zm-41.1 1.9h1.7v.7h-1.7zm-8 4.5h1.7v.7h-1.7zm55.4 20.6h1.7v.7h-1.7zm-63.2 -1.3h1.7v.7h-1.7zm3.8 3.3h1.7v.7h-1.7zm-2.8 3h1.7v.7h-1.7zm5.8 1.4h1.7v.7h-1.7zm-8.7 2.9h1.7v.7h-1.7zm22.1 -4.8h1.7v.7h-1.7zm5.4 -1h1.7v.7h-1.7zm12 4.3h1.7v.7h-1.7zm1.9 2.5h1.7v.7h-1.7zm-3.7 1h1.7v.7h-1.7zm10.5 3.7h1.7v.7h-1.7zm-1 -1.8h1.7v.7h-1.7zm-37.5 -3.9h1.7v.7h-1.7zm-2 3.9h1.7v.7h-1.7zm3 1h1.7v.7h-1.7zm-9.8 -1h1.7v.7h-1.7zm-0.9 3.8h1.7v.7h-1.7zm17.3 -2h1.7v.7h-1.7zm2.9 1h1.7v.7h-1.7zm3.9 -1h1.7v.7h-1.7zm-1 3h1.7v.7h-1.7zm-15.4 0h1.7v.7h-1.7zm2 1.9h1.7v.7h-1.7zm5.7 -0.9h1.7v.7h-1.7zm2.9 1.9h1.7v.7h-1.7zm-17.4 1h1.7v.7h-1.7zm2.9 1.9h1.7v.7h-1.7zm4.9 1h1.7v.7h-1.7zm4.8 -2h1.7v.7h-1.7zm-11.6 4.8h1.7v.7h-1.7zm5.8 0h1.7v.7h-1.7zm7.7 -0.9h1.7v.7h-1.7zm2.9 0.9h1.7v.7h-1.7zm-17.4 4.9h1.7v.7h-1.7zm3.9 0.9h1.7v.7h-1.7zm4.9 1h1.7v.7h-1.7zm9.5 -1.9h1.7v.7h-1.7zm2 -2h1.7v.7h-1.7zm4.8 -0.9h1.7v.7h-1.7zm-25.1 6.7h1.7v.7h-1.7zm2.9 1h1.7v.7h-1.7zm4.9 -1h1.7v.7h-1.7zm4.8 1h1.7v.7h-1.7zm6.7 -1h1.7v.7h-1.7zm7.7 -2.9h1.7v.7h-1.7zm-26 6.8h1.7v.7h-1.7zm4.8 -1h1.7v.7h-1.7zm4 1.8h1.7v.7h-1.7zm3.7 0h1.7v.7h-1.7zm7.7 -1.8h1.7v.7h-1.7zm7.7 -1.9h1.7v.7h-1.7zm1 2.9h1.7v.7h-1.7zm15.4 -0.4h1.7v.7h-1.7zm-18.3 1.2h1.7v.7h-1.7zm-96 6.3h1.7v.7h-1.7zm5.8 0.9h1.7v.7h-1.7zm5.8 -4.4h1.7v.7h-1.7zm5.8 1.6h1.7v.7h-1.7zm5.7 -1.6h1.7v.7h-1.7zm-16.3 7.2h1.7v.7h-1.7zm2 4h1.7v.7h-1.7zm-2 -2h1.7v.7h-1.7zm13.5 -3.8h1.7v.7h-1.7zm1.9 2.8h1.7v.7h-1.7zm3.8 2h1.7v.7h-1.7zm2.9 -9.6h1.7v.7h-1.7zm3.9 -1h1.7v.7h-1.7zm4.8 1h1.7v.7h-1.7zm4.8 -0.6h1.7v.7h-1.7zm4.8 1.2h1.7v.7h-1.7zm4.9 -1.2h1.7v.7h-1.7zm4.8 0.6h1.7v.7h-1.7zm4.9 -1h1.7v.7h-1.7zm3.8 1.6h1.7v.7h-1.7zm-36.7 4.2h1.7v.7h-1.7zm3.9 1h1.7v.7h-1.7zm3.8 -2h1.7v.7h-1.7zm3.9 2h1.7v.7h-1.7zm4.8 -1h1.7v.7h-1.7zm4.8 -1h1.7v.7h-1.7zm4.9 1.4h1.7v.7h-1.7zm3.8 -0.8h1.7v.7h-1.7zm4.8 0.4h1.7v.7h-1.7zm-33.7 4.8h1.7v.7h-1.7zm4.9 -1h1.7v.7h-1.7zm3.8 2h1.7v.7h-1.7zm4.8 -1.5h1.7v.7h-1.7zm4.8 1.1h1.7v.7h-1.7zm4.8 -1.6h1.7v.7h-1.7zm4.8 1h1.7v.7h-1.7zm5 -0.5h1.7v.7h-1.7zm2.8 1.5h1.7v.7h-1.7zm-53.1 4.8h1.7v.7h-1.7zm3.9 1h1.7v.7h-1.7zm1 2.8h1.7v.7h-1.7zm5.7 -2h1.7v.7h-1.7zm3.9 4h1.7v.7h-1.7zm5.8 -6.8h1.7v.7h-1.7zm3.8 1h1.7v.7h-1.7zm3.9 -1.9h1.7v.7h-1.7zm4.8 0.9h1.7v.7h-1.7zm4.8 -0.3h1.7v.7h-1.7zm4.9 0.7h1.7v.7h-1.7zm4.8 -0.4h1.7v.7h-1.7zm3.8 1h1.7v.7h-1.7zm-54.8 6.8h1.7v.7h-1.7zm25 -2h1.7v.7h-1.7zm3.8 1h1.7v.7h-1.7zm3.9 -2h1.7v.7h-1.7zm4.8 1h1.7v.7h-1.7zm5.8 -1h1.7v.7h-1.7zm4.8 1h1.7v.7h-1.7zm4.9 -0.5h1.7v.7h-1.7zm-62.7 6.7h1.7v.7h-1.7zm1.9 0h1.7v.7h-1.7zm5.8 2.5h1.7v.7h-1.7zm4.8 1.8h1.7v.7h-1.7zm9.6 -2.8h1.7v.7h-1.7zm11.6 -1.9h1.7v.7h-1.7zm2 1.9h1.7v.7h-1.7zm3.8 -0.9h1.7v.7h-1.7zm6.7 -1.9h1.7v.7h-1.7zm2.9 0.9h1.7v.7h-1.7zm3.9 1h1.7v.7h-1.7zm4.8 -1.9h1.7v.7h-1.7zm4.9 0.9h1.7v.7h-1.7zm3.8 -1.9h1.7v.7h-1.7zm-64.6 9.5h1.7v.7h-1.7zm17.3 -0.9h1.7v.7h-1.7zm3.9 -1h1.7v.7h-1.7zm3.8 1h1.7v.7h-1.7zm-2.9 2.9h1.7v.7h-1.7zm4.9 -1h1.7v.7h-1.7zm9.6 -1.9h1.7v.7h-1.7zm6.8 0h1.7v.7h-1.7zm3.8 -1.3h1.7v.7h-1.7zm3.9 2.2h1.7v.7h-1.7zm7.7 -3.7h1.7v.7h-1.7zm4.8 -1h1.7v.7h-1.7zm-41.5 10.6h1.7v.7h-1.7zm2 -1.5h1.7v.7h-1.7zm7.7 0.5h1.7v.7h-1.7zm3 2h1.7v.7h-1.7zm7.6 0h1.7v.7h-1.7zm4.8 -2h1.7v.7h-1.7zm2.9 2h1.7v.7h-1.7zm9.7 -2h1.7v.7h-1.7zm-32.8 4.9h1.7v.7h-1.7zm-1 2.8h1.7v.7h-1.7zm1.9 1.4h1.7v.7h-1.7zm7.7 -4.2h1.7v.7h-1.7zm1 2.8h1.7v.7h-1.7zm6.8 -2.8h1.7v.7h-1.7zm1.9 1.8h1.7v.7h-1.7zm4.8 -1.8h1.7v.7h-1.7zm8.7 0h1.7v.7h-1.7zm2 1.8h1.7v.7h-1.7zm-55 5.4h1.7v.7h-1.7zm29.8 -0.5h1.7v.7h-1.7zm2 2.9h1.7v.7h-1.7zm7.7 -4.8h1.7v.7h-1.7zm4.8 0h1.7v.7h-1.7zm0 2.9h1.7v.7h-1.7zm-1 3.4h1.7v.7h-1.7zm2 2.4h1.7v.7h-1.7zm-2 1.8h1.7v.7h-1.7zm-24.1 -2.2h1.7v.7h-1.7zm7.8 6.1h1.7v.7h-1.7zm25 -3.9h1.7v.7h-1.7zm3 -0.3h1.7v.7h-1.7zm3.8 -0.7h1.7v.7h-1.7zm-78.1 4.9h1.7v.7h-1.7zm22.3 -1.5h1.7v.7h-1.7zm41.3 2.5h1.7v.7h-1.7zm-2.9 3.9h1.7v.7h-1.7zm3.9 -0.6h1.7v.7h-1.7zm6.7 0.6h1.7v.7h-1.7zm-7.7 3.7h1.7v.7h-1.7zm17.9 -72.2h1.7v.7h-1.7zm3.9 -0.4h1.7v.7h-1.7zm4.9 1.4h1.7v.7h-1.7zm5.7 -0.6h1.7v.7h-1.7zm4.8 1.2h1.7v.7h-1.7zm3.9 -1.6h1.7v.7h-1.7zm4.8 0.4h1.7v.7h-1.7zm-27 5.4h1.7v.7h-1.7zm4.8 -1h1.7v.7h-1.7zm5.8 1.4h1.7v.7h-1.7zm4.8 -0.8h1.7v.7h-1.7zm4.8 0.8h1.7v.7h-1.7zm3.9 -0.8h1.7v.7h-1.7zm4.8 0.8h1.7v.7h-1.7zm4.9 0.6h1.7v.7h-1.7zm-34.8 3.8h1.7v.7h-1.7zm4.8 1h1.7v.7h-1.7zm5 -1.5h1.7v.7h-1.7zm5.6 1.5h1.7v.7h-1.7zm4.9 -1h1.7v.7h-1.7zm6.7 2h1.7v.7h-1.7zm5.8 -1.4h1.7v.7h-1.7zm7.7 1.4h1.7v.7h-1.7zm-39.5 3.8h1.7v.7h-1.7zm5.8 -1h1.7v.7h-1.7zm5.8 1.6h1.7v.7h-1.7zm4.8 -1.2h1.7v.7h-1.7zm5.8 1.6h1.7v.7h-1.7zm5.7 -1h1.7v.7h-1.7zm5.9 -1h1.7v.7h-1.7zm5.7 1.6h1.7v.7h-1.7zm4.8 1.2h1.7v.7h-1.7zm4.8 -1.2h1.7v.7h-1.7zm-50.1 5.2h1.7v.7h-1.7zm4.8 -1h1.7v.7h-1.7zm5.8 1.5h1.7v.7h-1.7zm4.8 -1.1h1.7v.7h-1.7zm4.9 1.6h1.7v.7h-1.7zm5.8 -2h1.7v.7h-1.7zm4.8 1.5h1.7v.7h-1.7zm13.5 -1.5h1.7v.7h-1.7zm0.9 2h1.7v.7h-1.7zm-44.3 3.8h1.7v.7h-1.7zm4.8 1h1.7v.7h-1.7zm5.8 -1.4h1.7v.7h-1.7zm4.8 1.4h1.7v.7h-1.7zm5.8 -1h1.7v.7h-1.7zm2.9 -0.9h1.7v.7h-1.7zm14.4 0.9h1.7v.7h-1.7zm9.1 1h1.7v.7h-1.7zm-48.6 4.7h1.7v.7h-1.7zm3.9 -1h1.7v.7h-1.7zm5.9 1.5h1.7v.7h-1.7zm4.7 -0.8h1.7v.7h-1.7zm6.7 1.3h1.7v.7h-1.7zm9.7 -3.8h1.7v.7h-1.7zm5.9 1h1.7v.7h-1.7zm-35.8 6.7h1.7v.7h-1.7zm4.8 -1h1.7v.7h-1.7zm5.8 1.6h1.7v.7h-1.7zm5.8 -2.6h1.7v.7h-1.7zm5.8 3h1.7v.7h-1.7zm7.7 -2h1.7v.7h-1.7zm9.6 1h1.7v.7h-1.7zm3.9 1h1.7v.7h-1.7zm-44.4 4.8h1.7v.7h-1.7zm3.9 -1h1.7v.7h-1.7zm5.9 1.6h1.7v.7h-1.7zm3.7 -1.3h1.7v.7h-1.7zm16.4 -1.2h1.7v.7h-1.7zm9.6 2.9h1.7v.7h-1.7zm3.9 -1.7h1.7v.7h-1.7zm-36.6 5.9h1.7v.7h-1.7zm5.8 0h1.7v.7h-1.7zm3.8 1.5h1.7v.7h-1.7zm3.9 2h1.7v.7h-1.7zm1.9 1.5h1.7v.7h-1.7zm7.7 -6.4h1.7v.7h-1.7zm18.7 4.4h1.7v.7h-1.7zm-43.8 -0.5h1.7v.7h-1.7zm2 3.3h1.7v.7h-1.7zm65.5 -14.9h1.7v.7h-1.7zm-63.5 19.9h1.7v.7h-1.7zm5.7 -1.5h1.7v.7h-1.7zm0.9 2.8h1.7v.7h-1.7zm6.8 0h1.7v.7h-1.7zm1 -1h1.7v.7h-1.7zm8.6 -1h1.7v.7h-1.7zm-1.9 2h1.7v.7h-1.7zm-27.9 4.9h1.7v.7h-1.7zm12.5 -2h1.7v.7h-1.7zm-15.4 7.8h1.7v.7h-1.7zm6.7 2.8h1.7v.7h-1.7zm15.4 -2.8h1.7v.7h-1.7zm8.7 1.5h1.7v.7h-1.7zm-89.3 -93.1h1.7v.7h-1.7zm7.4 2.8h1.7v.7h-1.7zm2.6 -1.6h1.7v.7h-1.7zm36.3 -0.4h1.7v.7h-1.7zm-0.1 3h1.7v.7h-1.7zm-39 -1.4h1.7v.7h-1.7zm6.8 3.6h1.7v.7h-1.7zm1.9 -0.9h1.7v.7h-1.7zm7.3 -1.3h1.7v.7h-1.7zm3.5 4h1.7v.7h-1.7zm4 -3h1.7v.7h-1.7zm11.2 -0.3h1.7v.7h-1.7zm-36.1 4.1h1.7v.7h-1.7zm1 -1.8h1.7v.7h-1.7zm17.9 2.7h1.7v.7h-1.7zm1 -1.4h1.7v.7h-1.7zm10.5 1.5h1.7v.7h-1.7zm5 -3.4h1.7v.7h-1.7zm3.4 4.1h1.7v.7h-1.7zm5.1 -3.1h1.7v.7h-1.7zm3.3 5.4h1.7v.7h-1.7zm-39.5 0.8h1.7v.7h-1.7zm14.8 -0.7h1.7v.7h-1.7zm2.6 3h1.7v.7h-1.7zm0.3 -5.1h1.7v.7h-1.7zm2 0.1h1.7v.7h-1.7zm2.8 3.6h1.7v.7h-1.7zm2.2 -0.5h1.7v.7h-1.7zm3.8 1.3h1.7v.7h-1.7zm0.3 -3.8h1.7v.7h-1.7zm2.5 2.1h1.7v.7h-1.7zm8 0.9h1.7v.7h-1.7zm1.1 0.4h1.7v.7h-1.7zm-29.5 1.3h1.7v.7h-1.7zm2.8 -0.2h1.7v.7h-1.7zm6.7 2.4h1.7v.7h-1.7zm-2.1 -2.2h1.7v.7h-1.7zm8.4 3.4h1.7v.7h-1.7zm-3.2 -4.3h1.7v.7h-1.7zm9.7 4h1.7v.7h-1.7zm-2.4 -4.8h1.7v.7h-1.7zm7.1 2.5h1.7v.7h-1.7zm-0.1 1.2h1.7v.7h-1.7zm4.4 -2.8h1.7v.7h-1.7zm-16.5 2.3h1.7v.7h-1.7zm-2 3.2h1.7v.7h-1.7zm7 -3h1.7v.7h-1.7zm-3.2 1.1h1.7v.7h-1.7zm6.4 -0.5h1.7v.7h-1.7zm-2.1 -0.7h1.7v.7h-1.7zm15.3 -2.4h1.7v.7h-1.7zm-0.7 -0.8h1.7v.7h-1.7zm1.8 0.2h1.7v.7h-1.7zm5.3 -0.6h1.7v.7h-1.7zm-70.3 11.3h1.7v.7h-1.7zm11.8 -4.1h1.7v.7h-1.7zm4.7 -0.2h1.7v.7h-1.7zm-1 8.7h1.7v.7h-1.7zm4 0.8h1.7v.7h-1.7zm0.6 -8.7h1.7v.7h-1.7zm6.4 -3h1.7v.7h-1.7zm6.2 3.9h1.7v.7h-1.7zm3.2 -3.9h1.7v.7h-1.7zm0.1 -0.2h1.7v.7h-1.7zm3 2.8h1.7v.7h-1.7zm4.7 -1.1h1.7v.7h-1.7zm2.2 -2.1h1.7v.7h-1.7zm5.4 0.8h1.7v.7h-1.7zm0.5 3.6h1.7v.7h-1.7zm3.7 -4.8h1.7v.7h-1.7zm0 1.8h1.7v.7h-1.7zm6.1 0.2h1.7v.7h-1.7zm-0.4 4.6h1.7v.7h-1.7zm-37.4 3.2h1.7v.7h-1.7zm1.1 1.9h1.7v.7h-1.7zm1.6 -0.1h1.7v.7h-1.7zm6 -6.1h1.7v.7h-1.7zm3.2 5.9h1.7v.7h-1.7zm-3.8 -3h1.7v.7h-1.7zm8.4 -2h1.7v.7h-1.7zm5.6 -0.4h1.7v.7h-1.7zm-0.4 -0.7h1.7v.7h-1.7zm3.2 5.5h1.7v.7h-1.7zm2.3 -4.2h1.7v.7h-1.7zm1.5 0.3h1.7v.7h-1.7zm2.4 -0.4h1.7v.7h-1.7zm0.6 4h1.7v.7h-1.7zm-31 4.5h1.7v.7h-1.7zm2.2 -1.4h1.7v.7h-1.7zm3.6 0.6h1.7v.7h-1.7zm7.5 -2.4h1.7v.7h-1.7zm6 2.1h1.7v.7h-1.7zm3.3 0.1h1.7v.7h-1.7zm2.4 1.6h1.7v.7h-1.7zm7.6 -3.6h1.7v.7h-1.7zm3.7 0.8h1.7v.7h-1.7zm-31.7 5.4h1.7v.7h-1.7zm0.5 2h1.7v.7h-1.7zm4.3 -5h1.7v.7h-1.7zm1.6 -0.6h1.7v.7h-1.7zm5.2 1.9h1.7v.7h-1.7zm3.8 3.5h1.7v.7h-1.7zm4.6 -1h1.7v.7h-1.7zm3.4 -3.8h1.7v.7h-1.7zm2.4 1.8h1.7v.7h-1.7zm-26.8 6.1h1.7v.7h-1.7zm3.4 3.5h1.7v.7h-1.7zm1.8 -5.3h1.7v.7h-1.7zm7.5 -0.3h1.7v.7h-1.7zm2.4 0.9h1.7v.7h-1.7zm5.4 1h1.7v.7h-1.7zm5.4 0.7h1.7v.7h-1.7zm-53 7.2h1.7v.7h-1.7zm26.1 -1.5h1.7v.7h-1.7zm-0.6 4.3h1.7v.7h-1.7zm4.5 -5h1.7v.7h-1.7zm5.9 0.5h1.7v.7h-1.7zm6.9 1.8h1.7v.7h-1.7zm1.5 -1.8h1.7v.7h-1.7zm2.8 0.2h1.7v.7h-1.7zm7.6 -0.7h1.7v.7h-1.7zm4.4 -1.5h1.7v.7h-1.7zm-45.8 10.3h1.7v.7h-1.7zm0.3 -0.1h1.7v.7h-1.7zm2.7 -0.9h1.7v.7h-1.7zm-1 1.2h1.7v.7h-1.7zm3.2 2h1.7v.7h-1.7zm9.3 -3.1h1.7v.7h-1.7zm11.7 -2.2h1.7v.7h-1.7zm-0.2 1.1h1.7v.7h-1.7zm5.5 2.4h1.7v.7h-1.7zm9.3 -6.2h1.7v.7h-1.7zm2.2 -0.3h1.7v.7h-1.7zm-42.8 13.6h1.7v.7h-1.7zm5.8 -2.4h1.7v.7h-1.7zm3.6 1.1h1.7v.7h-1.7zm6.8 0h1.7v.7h-1.7zm7.8 0h1.7v.7h-1.7zm-2.8 -1.8h1.7v.7h-1.7zm4.8 -2.3h1.7v.7h-1.7zm3.4 5.6h1.7v.7h-1.7zm-21.2 3.5h1.7v.7h-1.7zm8.8 -3h1.7v.7h-1.7zm0.1 3.8h1.7v.7h-1.7zm8 -2.5h1.7v.7h-1.7zm-0.8 2.5h1.7v.7h-1.7zm8.4 -4.1h1.7v.7h-1.7zm-5.2 3.7h1.7v.7h-1.7zm1.6 1.1h1.7v.7h-1.7zm2.5 6.7h1.7v.7h-1.7zm-1 0.2h1.7v.7h-1.7zm2.7 2.4h1.7v.7h-1.7zm-5.3 4.9h1.7v.7h-1.7zm3 3.7h1.7v.7h-1.7zm1.2 4.8h1.7v.7h-1.7zm15.8 -68.6h1.7v.7h-1.7zm5.1 -0.3h1.7v.7h-1.7zm3.5 0.7h1.7v.7h-1.7zm-7 2.6h1.7v.7h-1.7zm2.9 0.6h1.7v.7h-1.7zm5.1 2.9h1.7v.7h-1.7zm5.2 -5.4h1.7v.7h-1.7zm4.6 5.5h1.7v.7h-1.7zm-20 0.2h1.7v.7h-1.7zm3.1 0.6h1.7v.7h-1.7zm8.5 1.6h1.7v.7h-1.7zm5.6 2h1.7v.7h-1.7zm1.6 -1.7h1.7v.7h-1.7zm8.3 3.2h1.7v.7h-1.7zm-23.5 4.1h1.7v.7h-1.7zm1.7 -1.1h1.7v.7h-1.7zm10.3 1.9h1.7v.7h-1.7zm0.6 -4.9h1.7v.7h-1.7zm5.8 0.7h1.7v.7h-1.7zm9.6 3h1.7v.7h-1.7zm-30 5.9h1.7v.7h-1.7zm4.7 -3.8h1.7v.7h-1.7zm3 0.5h1.7v.7h-1.7zm8.3 -0.5h1.7v.7h-1.7zm2.6 2.6h1.7v.7h-1.7zm4.2 -2.8h1.7v.7h-1.7zm6.2 4h1.7v.7h-1.7zm-29.5 2.2h1.7v.7h-1.7zm7.9 1.9h1.7v.7h-1.7zm5.2 -0.8h1.7v.7h-1.7zm0.6 0.3h1.7v.7h-1.7zm7.9 0.9h1.7v.7h-1.7zm2.4 -1.2h1.7v.7h-1.7zm-24.1 4h1.7v.7h-1.7zm5.6 -1.6h1.7v.7h-1.7zm5.6 1.9h1.7v.7h-1.7zm0.5 -0.6h1.7v.7h-1.7zm10.7 5.3h1.7v.7h-1.7zm-24.2 1.4h1.7v.7h-1.7zm7.4 0.6h1.7v.7h-1.7zm4.2 0h1.7v.7h-1.7zm6.6 -0.8h1.7v.7h-1.7zm-13.8 7.2h1.7v.7h-1.7zm5.8 -2.1h1.7v.7h-1.7zm5.9 0.2h1.7v.7h-1.7zm-9.7 6.5h1.7v.7h-1.7zm5.6 0.9h1.7v.7h-1.7zm7 1.5h1.7v.7h-1.7zm3.6 -0.4h1.7v.7h-1.7zm-14.7 2.7h1.7v.7h-1.7zm10.2 1.7h1.7v.7h-1.7zm0.9 2.6h1.7v.7h-1.7zm3.4 1.4h1.7v.7h-1.7zm4.5 0.1h1.7v.7h-1.7zm-27.3 -54.2h1.7v.7h-1.7zm-22.1 2.1h1.7v.7h-1.7zm2.9 20.1h1.7v.7h-1.7zm20 -5.6h1.7v.7h-1.7zm-8.6 -19.2h1.7v.7h-1.7zm-12.3 7.4h1.7v.7h-1.7zm-6.1 10.8h1.7v.7h-1.7zm3.2 -12.1h1.7v.7h-1.7zm0.6 -6.7h1.7v.7h-1.7zm18.4 25.6h1.7v.7h-1.7zm-5.2 -21.6h1.7v.7h-1.7zm-26.3 10.8h1.7v.7h-1.7zm40.8 1.8h1.7v.7h-1.7zm-5.9 9.2h1.7v.7h-1.7zm4.8 -16.2h1.7v.7h-1.7zm-1.4 11.3h1.7v.7h-1.7zm-34.4 -10.6h1.7v.7h-1.7zm0.6 2.5h1.7v.7h-1.7z"/>
<rect x="298.8" y="18.5" width="190.7" height="180.9" fill="none" stroke="#1a1a1a" stroke-width="1.25"/>
<clipPath id="ctr"><rect x="298.2" y="17.9" width="191.9" height="182.1"/></clipPath>
<path clip-path="url(#ctr)" d="M315.2 51.9L470.2 164.4" stroke="#000" stroke-width="5.3" stroke-linecap="round" fill="none"/>
<text class="t" x="301.8" y="34.5" font-size="12">16 ms</text>
<text class="s" x="384.2" y="10.5" text-anchor="middle" style="font-size:12px;letter-spacing:0.35px">Judge Source</text>
<text class="s k" x="292.0" y="203.5" text-anchor="end">-300</text>
<text class="s k" x="298.5" y="220.5" text-anchor="middle">-300</text>
<text class="s k" x="292.0" y="173.3" text-anchor="end">-200</text>
<text class="s k" x="330.3" y="220.5" text-anchor="middle">-200</text>
<text class="s k" x="292.0" y="143.2" text-anchor="end">-100</text>
<text class="s k" x="362.1" y="220.5" text-anchor="middle">-100</text>
<text class="s k" x="292.0" y="113.0" text-anchor="end">0</text>
<text class="s k" x="394.1" y="220.5" text-anchor="middle">0</text>
<text class="s k" x="292.0" y="82.9" text-anchor="end">100</text>
<text class="s k" x="425.9" y="220.5" text-anchor="middle">100</text>
<text class="s k" x="292.0" y="52.8" text-anchor="end">200</text>
<text class="s k" x="457.7" y="220.5" text-anchor="middle">200</text>
<text class="s k" x="292.0" y="22.6" text-anchor="end">300</text>
<text class="s k" x="489.5" y="220.5" text-anchor="middle">300</text>
<text class="s" x="393.6" y="233.7" text-anchor="middle">Source IDT (µs)</text>
<text class="s" transform="translate(262.8 134.2) rotate(-90)" text-anchor="middle">Echo IDT (µs)</text>
</g>
<g id="bl">
<path class="gl" d="M77.5 258.5V438.3"/>
<path class="g" d="M45.8 408.3H236.0"/>
<path class="g" d="M109.2 258.5V438.3"/>
<path class="g" d="M45.8 378.4H236.0"/>
<path class="g" d="M140.9 258.5V438.3"/>
<path class="g" d="M45.8 348.4H236.0"/>
<path class="g" d="M172.6 258.5V438.3"/>
<path class="gd" d="M45.8 318.4H236.0"/>
<path class="g" d="M204.3 258.5V438.3"/>
<path class="gd" d="M45.8 288.5H236.0"/>
<rect x="47.0" y="261.5" width="31" height="14" fill="#fff"/>
<path class="tk" d="M41.3 438.3H48.3"/>
<path class="tk" d="M45.8 435.8V440.8"/>
<path class="tk" d="M42.8 423.3H48.3"/>
<path class="tk" d="M61.6 435.8V440.3"/>
<path class="tk" d="M41.3 408.3H48.3"/>
<path class="tk" d="M77.5 435.8V440.8"/>
<path class="tk" d="M42.8 393.4H48.3"/>
<path class="tk" d="M93.3 435.8V440.3"/>
<path class="tk" d="M41.3 378.4H48.3"/>
<path class="tk" d="M109.2 435.8V440.8"/>
<path class="tk" d="M42.8 363.4H48.3"/>
<path class="tk" d="M125.0 435.8V440.3"/>
<path class="tk" d="M41.3 348.4H48.3"/>
<path class="tk" d="M140.9 435.8V440.8"/>
<path class="tk" d="M42.8 333.4H48.3"/>
<path class="tk" d="M156.8 435.8V440.3"/>
<path class="tk" d="M41.3 318.4H48.3"/>
<path class="tk" d="M172.6 435.8V440.8"/>
<path class="tk" d="M42.8 303.4H48.3"/>
<path class="tk" d="M188.4 435.8V440.3"/>
<path class="tk" d="M41.3 288.5H48.3"/>
<path class="tk" d="M204.3 435.8V440.8"/>
<path class="tk" d="M42.8 273.5H48.3"/>
<path class="tk" d="M220.1 435.8V440.3"/>
<path class="tk" d="M41.3 258.5H48.3"/>
<path class="tk" d="M236.0 435.8V440.8"/>
<path class="o" d="M115.4 275.1h3v2.4h-3zm6.2 0h3v2.4h-3zm12.5 4.4h3v2.4h-3zm-31.4 2.7h3v2.4h-3zm20.8 0h3v2.4h-3zm14.5 1.2h3v2.4h-3zm-31.8 3.3h3v2.4h-3zm3.8 7.7h3v2.4h-3zm4.9 0h3v2.4h-3zm7.7 0h3v2.4h-3zm13.5 -1.9h3v2.4h-3zm1.9 -3.9h3v2.4h-3zm-42.4 11.6h3v2.4h-3zm22.2 1.9h3v2.4h-3zm7.7 3.9h3v2.4h-3zm8.6 -3.9h3v2.4h-3zm3.9 -1h3v2.4h-3zm-23.1 3.9h3v2.4h-3zm0.9 2.3h3v2.4h-3zm6.8 -0.4h3v2.4h-3zm4.8 0.4h3v2.4h-3zm-51.1 7.3h3v2.4h-3zm26 -1.9h3v2.4h-3zm2.9 -1h3v2.4h-3zm13.5 -2.5h3v2.4h-3zm1.9 5.4h3v2.4h-3zm6.8 -1.9h3v2.4h-3zm6.7 2.9h3v2.4h-3zm4.9 -2.9h3v2.4h-3zm-12.6 5.8h3v2.4h-3zm3.9 1h3v2.4h-3zm5.8 4.8h3v2.4h-3zm2.9 -1h3v2.4h-3zm-1 3.9h3v2.4h-3zm-61.7 3.2h3v2.4h-3zm44.3 -6.1h3v2.4h-3zm14.5 4.8h3v2.4h-3zm48.1 -55.9h3v2.4h-3zm-18.7 1.9h3v2.4h-3zm-6.7 1h3v2.4h-3zm19.3 0h3v2.4h-3zm-28.6 1.9h3v2.4h-3zm41.7 1.5h3v2.4h-3zm-41.1 2.4h3v2.4h-3zm28 0.3h3v2.4h-3zm-2.4 2h3v2.4h-3zm-29.5 1.5h3v2.4h-3zm-5.2 0h3v2.4h-3zm3.3 4.3h3v2.4h-3zm3.9 2.5h3v2.4h-3zm3.8 -1.4h3v2.4h-3zm6.8 -1.1h3v2.4h-3zm11.5 0h3v2.4h-3zm17.4 1.5h3v2.4h-3zm-44.3 4.8h3v2.4h-3zm16.3 -2.5h3v2.4h-3zm10.6 1.6h3v2.4h-3zm22.2 0.9h3v2.4h-3zm-6.7 1h3v2.4h-3zm-9.7 1.5h3v2.4h-3zm-12.5 0.4h3v2.4h-3zm-5.8 1h3v2.4h-3zm-10.6 0.6h3v2.4h-3zm2.9 2.3h3v2.4h-3zm5.8 0h3v2.4h-3zm3.8 1.5h3v2.4h-3zm4.9 0.4h3v2.4h-3zm2.9 -1.9h3v2.4h-3zm5.7 1.9h3v2.4h-3zm3.9 1.5h3v2.4h-3zm8.7 -3.4h3v2.4h-3zm2.9 0.4h3v2.4h-3zm6.7 -1.4h3v2.4h-3zm-52 2.9h3v2.4h-3zm4.8 2.3h3v2.4h-3zm2.9 0.6h3v2.4h-3zm10.6 0.9h3v2.4h-3zm5.8 0.4h3v2.4h-3zm26 -1.3h3v2.4h-3zm17.7 1.3h3v2.4h-3zm-22 2.5h3v2.4h-3zm-6.3 2.5h3v2.4h-3zm-4.8 -0.5h3v2.4h-3zm-2.9 1.3h3v2.4h-3zm-4.9 -1.3h3v2.4h-3zm-4.8 0.5h3v2.4h-3zm-4.8 -0.5h3v2.4h-3zm-4.8 0.9h3v2.4h-3zm-3.9 0h3v2.4h-3zm38 1h3v2.4h-3zm-7.1 2.5h3v2.4h-3zm-17.4 -1.2h3v2.4h-3zm-1.3 3.1h3v2.4h-3zm-3.5 0.4h3v2.4h-3zm42.4 -3.5h3v2.4h-3zm-2.9 2h3v2.4h-3zm0 3.4h3v2.4h-3zm0 2.4h3v2.4h-3zm-2.9 -1.4h3v2.4h-3zm-3.8 0h3v2.4h-3zm-2 1.4h3v2.4h-3zm-48.1 -2.4h3v2.4h-3zm4.8 -1.9h3v2.4h-3zm5.8 -0.9h3v2.4h-3zm14.4 3.8h3v2.4h-3zm5.8 0h3v2.4h-3zm10.6 0h3v2.4h-3zm1 2.9h3v2.4h-3zm3.4 1.5h3v2.4h-3zm-4.4 0.8h3v2.4h-3zm29.5 -2.7h3v2.4h-3zm-14.1 6.2h3v2.4h-3zm-54 -3.9h3v2.4h-3zm4.9 1h3v2.4h-3zm6.7 -1h3v2.4h-3zm4.8 1.6h3v2.4h-3zm5.8 -1.2h3v2.4h-3zm7.7 -0.8h3v2.4h-3zm4.8 -0.5h3v2.4h-3zm-22.1 5.7h3v2.4h-3zm5.8 1h3v2.4h-3zm5.7 -1h3v2.4h-3zm6.8 0h3v2.4h-3zm-1.9 2.6h3v2.4h-3zm9 -2h3v2.4h-3zm3.1 3.3h3v2.4h-3zm6.2 -1h3v2.4h-3zm1.9 1.6h3v2.4h-3zm13.1 -0.6h3v2.4h-3zm1.9 1.3h3v2.4h-3zm-61.3 -2.3h3v2.4h-3zm4.9 2h3v2.4h-3zm8.6 0h3v2.4h-3zm6.8 1.9h3v2.4h-3zm8.7 0h3v2.4h-3zm6.7 1.9h3v2.4h-3zm7.7 -0.4h3v2.4h-3zm-28.9 1.4h3v2.4h-3zm17.3 0.9h3v2.4h-3zm15.5 -3.8h3v2.4h-3zm-54 2.9h3v2.4h-3zm8.7 0.9h3v2.4h-3zm22.1 2.4h3v2.4h-3zm19.3 0h3v2.4h-3zm6.8 1.1h3v2.4h-3zm-34.7 2.7h3v2.4h-3zm3.8 0.6h3v2.4h-3zm2.9 -1.2h3v2.4h-3zm4.8 1.6h3v2.4h-3zm3.9 -1h3v2.4h-3zm9.6 0h3v2.4h-3zm2.9 0.6h3v2.4h-3zm8.3 -1.6h3v2.4h-3zm9.1 1h3v2.4h-3zm-43.4 3.8h3v2.4h-3zm3.8 1h3v2.4h-3zm5.8 -1h3v2.4h-3zm4.8 2h3v2.4h-3zm3.9 -2.9h3v2.4h-3zm7.7 2.9h3v2.4h-3zm3.9 0h3v2.4h-3zm2.5 -1h3v2.4h-3zm-33.4 5.8h3v2.4h-3zm3.9 1h3v2.4h-3zm5.8 -1h3v2.4h-3zm3.8 -1h3v2.4h-3zm3.9 1h3v2.4h-3zm2.9 -1h3v2.4h-3zm22.1 -1.3h3v2.4h-3zm-49.1 6.1h3v2.4h-3zm6.7 2h3v2.4h-3zm8.7 -2.9h3v2.4h-3zm5.8 0h3v2.4h-3zm5.8 -1h3v2.4h-3zm6.7 0.4h3v2.4h-3zm12.5 2.5h3v2.4h-3zm-33.7 4.8h3v2.4h-3zm11.6 -2.3h3v2.4h-3zm-6.8 6.2h3v2.4h-3zm10.6 -1h3v2.4h-3zm7.7 1h3v2.4h-3zm-1.9 1.9h3v2.4h-3zm11.6 -3.5h3v2.4h-3zm-18.3 7.8h3v2.4h-3zm20.2 7.3h3v2.4h-3zm-8.7 6.7h3v2.4h-3zm8.7 14.9h3v2.4h-3zm-40.5 0.6h3v2.4h-3zm9.7 -51.5h3v2.4h-3zm-12.6 -1.6h3v2.4h-3zm-22.9 -70.6h3v2.4h-3zm0.2 2.2h3v2.4h-3zm-21.4 12.3h3v2.4h-3zm7.5 9.2h3v2.4h-3zm-7.7 -2.7h3v2.4h-3zm8.8 5.1h3v2.4h-3zm2.4 8.7h3v2.4h-3zm9.4 1.3h3v2.4h-3zm2.6 2.5h3v2.4h-3zm-1.7 5.3h3v2.4h-3zm4.1 -45.8h3v2.4h-3zm-1.6 4.1h3v2.4h-3zm2.9 1h3v2.4h-3zm3.5 4.8h3v2.4h-3zm1.2 -3.6h3v2.4h-3zm-7.8 4.1h3v2.4h-3zm21.4 3.2h3v2.4h-3zm-7.1 0.8h3v2.4h-3zm-8.3 0h3v2.4h-3zm3.1 3.2h3v2.4h-3zm2.3 3.8h3v2.4h-3zm4.7 1.6h3v2.4h-3zm8.3 0.1h3v2.4h-3zm-0.9 -4.2h3v2.4h-3zm21 2.9h3v2.4h-3zm-41.4 0h3v2.4h-3zm2.8 0.8h3v2.4h-3zm4.8 1.3h3v2.4h-3zm9.6 -0.9h3v2.4h-3zm3.7 0h3v2.4h-3zm17.9 7.6h3v2.4h-3zm-7.7 1.1h3v2.4h-3zm-2.3 -1.1h3v2.4h-3zm-5.5 -2h3v2.4h-3zm-1.2 0.8h3v2.4h-3zm-8.3 0.4h3v2.4h-3zm-4 3h3v2.4h-3zm-5 0.4h3v2.4h-3zm37.7 0.6h3v2.4h-3zm-3.9 -1.1h3v2.4h-3zm-18.4 -0.8h3v2.4h-3zm-2.5 2.6h3v2.4h-3zm-2.9 4.6h3v2.4h-3zm42.8 -1.9h3v2.4h-3zm-4.7 0.1h3v2.4h-3zm4.2 1.2h3v2.4h-3zm-3.8 -0.2h3v2.4h-3zm-2.5 -1.4h3v2.4h-3zm-2.9 3.1h3v2.4h-3zm-51.6 -4.2h3v2.4h-3zm28.6 3.7h3v2.4h-3zm2.5 -0.4h3v2.4h-3zm14.3 -1.2h3v2.4h-3zm-0.7 2.5h3v2.4h-3zm1.3 4.8h3v2.4h-3zm-1.6 -2.2h3v2.4h-3zm-41.9 -0.9h3v2.4h-3zm19.2 3.7h3v2.4h-3zm4 -2.7h3v2.4h-3zm9.5 1.8h3v2.4h-3zm5.8 -1.2h3v2.4h-3zm-25.2 3h3v2.4h-3zm8.5 2.8h3v2.4h-3zm5.7 -2.8h3v2.4h-3zm7.2 1.4h3v2.4h-3zm-1.7 5.4h3v2.4h-3zm7.2 -6.4h3v2.4h-3zm5.2 5.7h3v2.4h-3zm6 -2.1h3v2.4h-3zm-1.6 4.5h3v2.4h-3zm-31.9 -3h3v2.4h-3zm6.8 4.1h3v2.4h-3zm6.8 -0.4h3v2.4h-3zm9 1.9h3v2.4h-3zm6 0.6h3v2.4h-3zm7.5 -0.7h3v2.4h-3zm-25.7 5.4h3v2.4h-3zm19.6 0.2h3v2.4h-3zm5.1 1.7h3v2.4h-3zm-30 0.8h3v2.4h-3zm1.5 0.8h3v2.4h-3zm3 -3.9h3v2.4h-3zm7 2.7h3v2.4h-3zm-0.2 -1.7h3v2.4h-3zm12.9 4.3h3v2.4h-3zm-27.1 -0.5h3v2.4h-3zm7.2 1.5h3v2.4h-3zm2.3 1.1h3v2.4h-3zm7.7 1.6h3v2.4h-3zm4.6 -5.1h3v2.4h-3zm8.5 6.1h3v2.4h-3zm-0.4 -3.1h3v2.4h-3zm4.9 1h3v2.4h-3zm-34.5 3.8h3v2.4h-3zm4.5 1.1h3v2.4h-3zm6.8 2.8h3v2.4h-3zm1.5 -2.5h3v2.4h-3zm7 -1.1h3v2.4h-3zm3.3 3h3v2.4h-3zm-13.9 1.2h3v2.4h-3zm8.2 0.5h3v2.4h-3zm3.5 1.2h3v2.4h-3zm-8.7 -7.3h3v2.4h-3zm-15.4 -1.7h3v2.4h-3z"/>
<path class="f" d="M103 274h1.7v.7h-1.7zm-34.8 16.8h1.7v.7h-1.7zm5.3 7.3h1.7v.7h-1.7zm28.6 -8.7h1.7v.7h-1.7zm7.7 -1.3h1.7v.7h-1.7zm19.3 0h1.7v.7h-1.7zm-5.9 2.7h1.7v.7h-1.7zm-16.3 6.3h1.7v.7h-1.7zm12.5 1h1.7v.7h-1.7zm7.7 -1.9h1.7v.7h-1.7zm-29.9 1.9h1.7v.7h-1.7zm4.9 5.8h1.7v.7h-1.7zm27 0h1.7v.7h-1.7zm1.9 -1.6h1.7v.7h-1.7zm-33.8 6.5h1.7v.7h-1.7zm2.9 0h1.7v.7h-1.7zm4.9 -0.7h1.7v.7h-1.7zm28.8 0.7h1.7v.7h-1.7zm-1 1.8h1.7v.7h-1.7zm-59.3 5.8h1.7v.7h-1.7zm15.1 1.4h1.7v.7h-1.7zm2.9 -1.4h1.7v.7h-1.7zm1.9 -1h1.7v.7h-1.7zm2.8 3.9h1.7v.7h-1.7zm5.9 1h1.7v.7h-1.7zm1.9 1.9h1.7v.7h-1.7zm2.9 -2.9h1.7v.7h-1.7zm4.8 1.5h1.7v.7h-1.7zm1.9 1.4h1.7v.7h-1.7zm-22.1 0h1.7v.7h-1.7zm1.9 -1h1.7v.7h-1.7zm-31.3 5.4h1.7v.7h-1.7zm6.6 0h1.7v.7h-1.7zm11.2 0h1.7v.7h-1.7zm5.8 1.4h1.7v.7h-1.7zm6.7 -1.4h1.7v.7h-1.7zm11.6 -1.5h1.7v.7h-1.7zm4.8 -1h1.7v.7h-1.7zm4.8 1.9h1.7v.7h-1.7zm2 2h1.7v.7h-1.7zm14.4 -3.9h1.7v.7h-1.7zm6.8 -1.9h1.7v.7h-1.7zm-30.9 7.7h1.7v.7h-1.7zm2 1.9h1.7v.7h-1.7zm5.7 -0.9h1.7v.7h-1.7zm7.6 0.9h1.7v.7h-1.7zm12.6 -0.9h1.7v.7h-1.7zm-44.3 3.9h1.7v.7h-1.7zm2.9 1h1.7v.7h-1.7zm3.3 -1.5h1.7v.7h-1.7zm9.3 0.5h1.7v.7h-1.7zm2.9 1h1.7v.7h-1.7zm4.8 -1h1.7v.7h-1.7zm7.7 1h1.7v.7h-1.7zm5.8 -1h1.7v.7h-1.7zm5.6 1.8h1.7v.7h-1.7zm-56.7 4.3h1.7v.7h-1.7zm13.5 0h1.7v.7h-1.7zm12.5 -1.4h1.7v.7h-1.7zm1.9 2h1.7v.7h-1.7zm3.9 -1h1.7v.7h-1.7zm5.8 -1h1.7v.7h-1.7zm2.9 2h1.7v.7h-1.7zm3.8 -1h1.7v.7h-1.7zm4.8 -1h1.7v.7h-1.7zm3.9 2h1.7v.7h-1.7zm4.7 -1h1.7v.7h-1.7zm4.9 1h1.7v.7h-1.7zm-56.8 4.4h1.7v.7h-1.7zm2.9 0.9h1.7v.7h-1.7zm2.8 -1.5h1.7v.7h-1.7zm4.9 0.6h1.7v.7h-1.7zm5.7 0.9h1.7v.7h-1.7zm3.9 -2.5h1.7v.7h-1.7zm3.9 1.6h1.7v.7h-1.7zm5.7 -0.6h1.7v.7h-1.7zm3.9 1.5h1.7v.7h-1.7zm4.8 -1.5h1.7v.7h-1.7zm4.8 1h1.7v.7h-1.7zm5.8 -1h1.7v.7h-1.7zm4.8 1h1.7v.7h-1.7zm4.9 -1h1.7v.7h-1.7zm-62.7 2.9h1.7v.7h-1.7zm16.4 0h1.7v.7h-1.7zm28.8 0h1.7v.7h-1.7zm8.8 -34.7h1.7v.7h-1.7zm2.8 1.9h1.7v.7h-1.7zm2 -3.8h1.7v.7h-1.7zm-7.7 5.8h1.7v.7h-1.7zm-2.9 -2h1.7v.7h-1.7zm14.5 -19.2h1.7v.7h-1.7zm-2 2.8h1.7v.7h-1.7zm-7.7 6.8h1.7v.7h-1.7zm17.8 6.7h1.7v.7h-1.7zm-2.8 2h1.7v.7h-1.7zm1.8 -0.6h1.7v.7h-1.7zm-2.8 6.4h1.7v.7h-1.7zm2.8 -1h1.7v.7h-1.7zm6.9 4.8h1.7v.7h-1.7zm6.6 2.5h1.7v.7h-1.7zm-19.2 -1.5h1.7v.7h-1.7zm0 6.7h1.7v.7h-1.7zm2.9 2h1.7v.7h-1.7zm4.8 0h1.7v.7h-1.7zm6.8 -1h1.7v.7h-1.7zm1.9 2h1.7v.7h-1.7zm9.7 -2.4h1.7v.7h-1.7zm0.9 2.4h1.7v.7h-1.7zm-27 1.8h1.7v.7h-1.7zm3.9 -0.8h1.7v.7h-1.7zm-1.9 4.7h1.7v.7h-1.7zm2.7 1.9h1.7v.7h-1.7zm3 -1.5h1.7v.7h-1.7zm-6.7 3.4h1.7v.7h-1.7zm-1 2.9h1.7v.7h-1.7zm3.9 -0.4h1.7v.7h-1.7zm2.8 -1.5h1.7v.7h-1.7zm9.7 1.5h1.7v.7h-1.7zm20.3 -6.3h1.7v.7h-1.7zm-26.1 -4.2h1.7v.7h-1.7zm1 -3.5h1.7v.7h-1.7zm-75.7 16.7h1.7v.7h-1.7zm9.6 0.4h1.7v.7h-1.7zm8.6 -0.8h1.7v.7h-1.7zm3 1.4h1.7v.7h-1.7zm6.8 -1h1.7v.7h-1.7zm8.6 0.4h1.7v.7h-1.7zm4.9 -0.8h1.7v.7h-1.7zm7.7 1.4h1.7v.7h-1.7zm4.8 -1h1.7v.7h-1.7zm4.8 1h1.7v.7h-1.7zm3.9 -1.4h1.7v.7h-1.7zm-61.7 6.2h1.7v.7h-1.7zm12.5 0.5h1.7v.7h-1.7zm10.6 -1.5h1.7v.7h-1.7zm2.9 2h1.7v.7h-1.7zm4.8 -1h1.7v.7h-1.7zm5.8 -1h1.7v.7h-1.7zm4.8 1.5h1.7v.7h-1.7zm4.8 -0.9h1.7v.7h-1.7zm4.9 1.4h1.7v.7h-1.7zm3.7 -2h1.7v.7h-1.7zm4.9 1.5h1.7v.7h-1.7zm-73.8 4.3h1.7v.7h-1.7zm7.9 -1.3h1.7v.7h-1.7zm8.1 1.3h1.7v.7h-1.7zm4.8 -1.3h1.7v.7h-1.7zm12.5 2.3h1.7v.7h-1.7zm5.8 -1h1.7v.7h-1.7zm4.9 1h1.7v.7h-1.7zm4.8 -1.5h1.7v.7h-1.7zm5.8 1.2h1.7v.7h-1.7zm4.7 0.7h1.7v.7h-1.7zm4.9 -1.4h1.7v.7h-1.7zm5.7 1h1.7v.7h-1.7zm5.9 -1h1.7v.7h-1.7zm-67.5 7.2h1.7v.7h-1.7zm2.9 -0.4h1.7v.7h-1.7zm2.9 -1h1.7v.7h-1.7zm6.7 -1h1.7v.7h-1.7zm1.9 1.6h1.7v.7h-1.7zm7.8 0.4h1.7v.7h-1.7zm1.8 1.5h1.7v.7h-1.7zm3.9 -2.5h1.7v.7h-1.7zm4.9 1h1.7v.7h-1.7zm4.8 -1.6h1.7v.7h-1.7zm3.8 2.5h1.7v.7h-1.7zm4.9 -1.9h1.7v.7h-1.7zm5.7 0.6h1.7v.7h-1.7zm5.8 -1.6h1.7v.7h-1.7zm4.8 2h1.7v.7h-1.7zm4.9 -1h1.7v.7h-1.7zm-52.1 4.9h1.7v.7h-1.7zm5.8 1h1.7v.7h-1.7zm5.8 -0.7h1.7v.7h-1.7zm2.9 1.2h1.7v.7h-1.7zm6.7 -2h1.7v.7h-1.7zm3.9 1.5h1.7v.7h-1.7zm6.7 -1h1.7v.7h-1.7zm6.8 1h1.7v.7h-1.7zm6.6 -1h1.7v.7h-1.7zm4.9 1.5h1.7v.7h-1.7zm-62.6 4.2h1.7v.7h-1.7zm16.4 -0.9h1.7v.7h-1.7zm6.7 1.9h1.7v.7h-1.7zm12.5 -1h1.7v.7h-1.7zm2.9 -0.9h1.7v.7h-1.7zm3.9 0.9h1.7v.7h-1.7zm10.6 0h1.7v.7h-1.7zm5.7 -0.9h1.7v.7h-1.7zm5.9 0.9h1.7v.7h-1.7zm-59.8 2.9h1.7v.7h-1.7zm13.5 1.9h1.7v.7h-1.7zm7.7 -0.9h1.7v.7h-1.7zm2.9 1.9h1.7v.7h-1.7zm7.7 -2.3h1.7v.7h-1.7zm2.9 1.3h1.7v.7h-1.7zm2.9 -0.9h1.7v.7h-1.7zm4.7 0.9h1.7v.7h-1.7zm3 1h1.7v.7h-1.7zm4.8 -1.9h1.7v.7h-1.7zm4.8 1.9h1.7v.7h-1.7zm-69.4 2.9h1.7v.7h-1.7zm15.5 -1.4h1.7v.7h-1.7zm-5.8 3.3h1.7v.7h-1.7zm14.4 0h1.7v.7h-1.7zm5.7 0h1.7v.7h-1.7zm9.8 -1.9h1.7v.7h-1.7zm1.9 1.9h1.7v.7h-1.7zm4.8 -2.9h1.7v.7h-1.7zm2.9 2h1.7v.7h-1.7zm4.8 -1h1.7v.7h-1.7zm4.8 -1h1.7v.7h-1.7zm3.9 2h1.7v.7h-1.7zm4.7 -1h1.7v.7h-1.7zm4.9 1.9h1.7v.7h-1.7zm-66.5 4.8h1.7v.7h-1.7zm26 0h1.7v.7h-1.7zm13.5 -2.9h1.7v.7h-1.7zm2.9 2h1.7v.7h-1.7zm7.6 0h1.7v.7h-1.7zm3 1.9h1.7v.7h-1.7zm9.6 -3.9h1.7v.7h-1.7zm3.9 2h1.7v.7h-1.7zm-37.6 6.8h1.7v.7h-1.7zm1 1.5h1.7v.7h-1.7zm8.7 -5.4h1.7v.7h-1.7zm2.9 0.9h1.7v.7h-1.7zm10.5 -0.9h1.7v.7h-1.7zm2 0.9h1.7v.7h-1.7zm7.6 0h1.7v.7h-1.7zm3 -0.9h1.7v.7h-1.7zm-43.4 10h1.7v.7h-1.7zm16.4 -0.4h1.7v.7h-1.7zm2.9 -1.5h1.7v.7h-1.7zm11.5 1.5h1.7v.7h-1.7zm2 -1.9h1.7v.7h-1.7zm4.8 1.9h1.7v.7h-1.7zm-37.6 4.8h1.7v.7h-1.7zm6.4 1.5h1.7v.7h-1.7zm12.9 -2.4h1.7v.7h-1.7zm1 2.9h1.7v.7h-1.7zm15.4 0h1.7v.7h-1.7zm1.9 1.9h1.7v.7h-1.7zm-16.4 0.9h1.7v.7h-1.7zm-1.9 1.7h1.7v.7h-1.7zm-1 5.7h1.7v.7h-1.7zm30.4 -71h1.7v.7h-1.7zm4.7 1h1.7v.7h-1.7zm5 -1.4h1.7v.7h-1.7zm4.8 0.8h1.7v.7h-1.7zm3.7 1.6h1.7v.7h-1.7zm-17.2 3.8h1.7v.7h-1.7zm5.7 -1h1.7v.7h-1.7zm4.9 1.5h1.7v.7h-1.7zm4.8 -0.9h1.7v.7h-1.7zm2.8 1.4h1.7v.7h-1.7zm-19.2 3.8h1.7v.7h-1.7zm3.9 1h1.7v.7h-1.7zm4.8 -1.5h1.7v.7h-1.7zm4.8 1.2h1.7v.7h-1.7zm-12.5 5.1h1.7v.7h-1.7zm4.7 -1h1.7v.7h-1.7zm4.9 1.6h1.7v.7h-1.7zm3.9 -1.2h1.7v.7h-1.7zm11.6 -0.4h1.7v.7h-1.7zm-26.1 5.9h1.7v.7h-1.7zm4.7 1h1.7v.7h-1.7zm5 -1.5h1.7v.7h-1.7zm4.8 1.5h1.7v.7h-1.7zm8.6 0h1.7v.7h-1.7zm5.8 -2h1.7v.7h-1.7zm-27.9 6.7h1.7v.7h-1.7zm4.7 1h1.7v.7h-1.7zm4.9 -1.4h1.7v.7h-1.7zm3.9 1.4h1.7v.7h-1.7zm1.9 -1.9h1.7v.7h-1.7zm-16.4 6.7h1.7v.7h-1.7zm4.7 1h1.7v.7h-1.7zm5 -1.4h1.7v.7h-1.7zm3.8 2.3h1.7v.7h-1.7zm3.9 -2.9h1.7v.7h-1.7zm5.7 2h1.7v.7h-1.7zm-20.2 4.8h1.7v.7h-1.7zm9.7 -1h1.7v.7h-1.7zm-9.7 6.8h1.7v.7h-1.7zm12.5 -1h1.7v.7h-1.7zm2 1h1.7v.7h-1.7zm-15.4 4.2h1.7v.7h-1.7zm11.1 1.5h1.7v.7h-1.7zm4.3 -2.8h1.7v.7h-1.7zm9.6 1h1.7v.7h-1.7zm2.9 -3.9h1.7v.7h-1.7zm-29.9 12.5h1.7v.7h-1.7zm6.7 0h1.7v.7h-1.7zm3 0h1.7v.7h-1.7zm12.4 -4.4h1.7v.7h-1.7zm-22.1 12.1h1.7v.7h-1.7zm11.6 2.9h1.7v.7h-1.7zm16.4 6.2h1.7v.7h-1.7zm10.6 -72.1h1.7v.7h-1.7zm11.1 10.4h1.7v.7h-1.7zm-8.2 10.3h1.7v.7h-1.7zm4.7 1h1.7v.7h-1.7zm-7.6 4.7h1.7v.7h-1.7zm-1.9 1.9h1.7v.7h-1.7zm-1 5.8h1.7v.7h-1.7zm23 7.7h1.7v.7h-1.7zm-19.2 3.9h1.7v.7h-1.7zm5.7 3.8h1.7v.7h-1.7zm2.9 0h1.7v.7h-1.7zm-12.4 1.4h1.7v.7h-1.7zm1 4.4h1.7v.7h-1.7zm3.8 1.9h1.7v.7h-1.7zm2.9 5.8h1.7v.7h-1.7zm-80.7 -110.1h1.7v.7h-1.7zm-15.7 16h1.7v.7h-1.7zm1.9 -2.6h1.7v.7h-1.7zm2.8 -0.6h1.7v.7h-1.7zm1.4 5h1.7v.7h-1.7zm7 -3.8h1.7v.7h-1.7zm1.6 3.8h1.7v.7h-1.7zm1.6 -2.9h1.7v.7h-1.7zm6.8 2.9h1.7v.7h-1.7zm1.6 -0.8h1.7v.7h-1.7zm-22.7 2.5h1.7v.7h-1.7zm5.6 -2.2h1.7v.7h-1.7zm-4.8 6.9h1.7v.7h-1.7zm12.5 -4.6h1.7v.7h-1.7zm3.5 1.9h1.7v.7h-1.7zm3.5 -0.7h1.7v.7h-1.7zm3 1.5h1.7v.7h-1.7zm0.8 4.1h1.7v.7h-1.7zm-9.1 0.2h1.7v.7h-1.7zm4.5 2.8h1.7v.7h-1.7zm3.8 -3.6h1.7v.7h-1.7zm8.2 0.1h1.7v.7h-1.7zm-14.9 4h1.7v.7h-1.7zm3 0.6h1.7v.7h-1.7zm2.4 -1.1h1.7v.7h-1.7zm0.1 -0.3h1.7v.7h-1.7zm5.6 3.8h1.7v.7h-1.7zm7.3 -3.5h1.7v.7h-1.7zm5.7 3.1h1.7v.7h-1.7zm-42.6 5.1h1.7v.7h-1.7zm13.7 -2.8h1.7v.7h-1.7zm3.3 4.5h1.7v.7h-1.7zm-0.6 -1.1h1.7v.7h-1.7zm10.2 -1.2h1.7v.7h-1.7zm-1.1 2.2h1.7v.7h-1.7zm6.4 -5.2h1.7v.7h-1.7zm1.6 3.8h1.7v.7h-1.7zm7.1 -1.6h1.7v.7h-1.7zm2 -1.6h1.7v.7h-1.7zm5.4 4.3h1.7v.7h-1.7zm-56.1 1.2h1.7v.7h-1.7zm5.8 4.1h1.7v.7h-1.7zm-1 -0.9h1.7v.7h-1.7zm7.2 0.1h1.7v.7h-1.7zm6 1.4h1.7v.7h-1.7zm4.5 -2.7h1.7v.7h-1.7zm0.8 0.8h1.7v.7h-1.7zm7.5 -0.3h1.7v.7h-1.7zm3.3 2.2h1.7v.7h-1.7zm5.5 -4.7h1.7v.7h-1.7zm3.1 0.3h1.7v.7h-1.7zm7.2 -1.4h1.7v.7h-1.7zm4.6 1.5h1.7v.7h-1.7zm0.2 1.8h1.7v.7h-1.7zm5 0.9h1.7v.7h-1.7zm-65.4 2.8h1.7v.7h-1.7zm18.8 -1.5h1.7v.7h-1.7zm30 1.5h1.7v.7h-1.7zm17.1 -13.8h1.7v.7h-1.7zm5.2 2.1h1.7v.7h-1.7zm-2.7 6.7h1.7v.7h-1.7zm-4.2 2.8h1.7v.7h-1.7zm7.2 1.1h1.7v.7h-1.7zm1.2 -1.1h1.7v.7h-1.7zm-60.3 2h1.7v.7h-1.7zm10.7 -3h1.7v.7h-1.7zm1.8 4.4h1.7v.7h-1.7zm5 0.2h1.7v.7h-1.7zm8.7 -1.6h1.7v.7h-1.7zm5.7 0.7h1.7v.7h-1.7zm-1.6 -1.7h1.7v.7h-1.7zm8.8 2h1.7v.7h-1.7zm6.9 -2.4h1.7v.7h-1.7zm4.8 1.6h1.7v.7h-1.7zm-1.7 -0.7h1.7v.7h-1.7zm3.9 2.3h1.7v.7h-1.7zm-60.9 5.2h1.7v.7h-1.7zm21.4 -3.5h1.7v.7h-1.7zm2.8 3.5h1.7v.7h-1.7zm6.5 0h1.7v.7h-1.7zm2.7 -1.3h1.7v.7h-1.7zm9.2 0.4h1.7v.7h-1.7zm0.5 -2h1.7v.7h-1.7zm4.6 0.9h1.7v.7h-1.7zm8.6 0.1h1.7v.7h-1.7zm3.4 2.3h1.7v.7h-1.7zm-56.5 3.6h1.7v.7h-1.7zm3.2 -1.3h1.7v.7h-1.7zm13 2.1h1.7v.7h-1.7zm5.7 -3h1.7v.7h-1.7zm4.9 2.3h1.7v.7h-1.7zm5.3 -3.4h1.7v.7h-1.7zm2.7 0.8h1.7v.7h-1.7zm7.9 5.5h1.7v.7h-1.7zm4.1 -4.4h1.7v.7h-1.7zm6.8 3.2h1.7v.7h-1.7zm4.4 -3.8h1.7v.7h-1.7zm-56.3 5.7h1.7v.7h-1.7zm9.8 2h1.7v.7h-1.7zm3.5 4.3h1.7v.7h-1.7zm0.8 -4.5h1.7v.7h-1.7zm4.8 -1.4h1.7v.7h-1.7zm8.8 0.9h1.7v.7h-1.7zm4.4 1.7h1.7v.7h-1.7zm0.2 -2.2h1.7v.7h-1.7zm8.7 3.5h1.7v.7h-1.7zm7.8 -4h1.7v.7h-1.7zm1.7 0h1.7v.7h-1.7zm6.3 -0.4h1.7v.7h-1.7zm-2.7 -1h1.7v.7h-1.7zm-52.8 8.4h1.7v.7h-1.7zm6.4 2.3h1.7v.7h-1.7zm5.7 -1.1h1.7v.7h-1.7zm3.1 -3.2h1.7v.7h-1.7zm9.7 -0.8h1.7v.7h-1.7zm4 1.1h1.7v.7h-1.7zm3.2 2h1.7v.7h-1.7zm10.1 1.4h1.7v.7h-1.7zm6.9 -5h1.7v.7h-1.7zm4.2 4.9h1.7v.7h-1.7zm-40.3 6.4h1.7v.7h-1.7zm11.4 -0.9h1.7v.7h-1.7zm5.3 -5.8h1.7v.7h-1.7zm0.3 4.2h1.7v.7h-1.7zm14.8 -3h1.7v.7h-1.7zm3 2.5h1.7v.7h-1.7zm5.2 1.6h1.7v.7h-1.7zm-44.8 0.6h1.7v.7h-1.7zm7.2 1.8h1.7v.7h-1.7zm3.3 2.4h1.7v.7h-1.7zm6.2 -1.7h1.7v.7h-1.7zm1.1 -0.7h1.7v.7h-1.7zm4.2 0.1h1.7v.7h-1.7zm1.7 1h1.7v.7h-1.7zm2.9 0h1.7v.7h-1.7zm2.8 -1.7h1.7v.7h-1.7zm0.3 4.6h1.7v.7h-1.7zm8.2 -2.7h1.7v.7h-1.7zm2.7 0.8h1.7v.7h-1.7zm-26.3 4h1.7v.7h-1.7zm-0.1 -0.8h1.7v.7h-1.7zm3.8 0.1h1.7v.7h-1.7zm-0.1 -1h1.7v.7h-1.7zm4 3.1h1.7v.7h-1.7zm5.9 -4.2h1.7v.7h-1.7zm0.6 -1.1h1.7v.7h-1.7zm6.1 3.8h1.7v.7h-1.7zm6.8 0.4h1.7v.7h-1.7zm0.7 1.6h1.7v.7h-1.7zm-23 2.1h1.7v.7h-1.7zm1.8 -1.1h1.7v.7h-1.7zm9.1 2.8h1.7v.7h-1.7zm11.7 -1.4h1.7v.7h-1.7zm2 -2.4h1.7v.7h-1.7zm-26.7 6.6h1.7v.7h-1.7zm13.5 0.7h1.7v.7h-1.7zm14.4 -3.6h1.7v.7h-1.7zm-25.8 10.4h1.7v.7h-1.7zm-0.7 3h1.7v.7h-1.7zm-0.1 5.7h1.7v.7h-1.7zm31.2 -62.3h1.7v.7h-1.7zm1.2 2.8h1.7v.7h-1.7zm8.4 -4.3h1.7v.7h-1.7zm-9.7 9.6h1.7v.7h-1.7zm1.6 -2h1.7v.7h-1.7zm3.7 -0.6h1.7v.7h-1.7zm3.3 -0.7h1.7v.7h-1.7zm-11.8 7h1.7v.7h-1.7zm4.9 0.3h1.7v.7h-1.7zm5 -1.6h1.7v.7h-1.7zm3.6 -1.5h1.7v.7h-1.7zm-8.1 6.9h1.7v.7h-1.7zm0.1 0.4h1.7v.7h-1.7zm8.4 -0.8h1.7v.7h-1.7zm2.9 -0.3h1.7v.7h-1.7zm-14.9 3.7h1.7v.7h-1.7zm2.3 6.1h1.7v.7h-1.7zm4.3 -2.7h1.7v.7h-1.7zm3.3 -2.5h1.7v.7h-1.7zm6 2.2h1.7v.7h-1.7zm-12.8 6.6h1.7v.7h-1.7zm4.3 2h1.7v.7h-1.7zm1.7 -6.1h1.7v.7h-1.7zm3.7 2h1.7v.7h-1.7zm1.2 -2.5h1.7v.7h-1.7zm-13.9 10.9h1.7v.7h-1.7zm4.4 1.4h1.7v.7h-1.7zm7.1 -6h1.7v.7h-1.7zm6.2 1.2h1.7v.7h-1.7zm-17 9.7h1.7v.7h-1.7zm10.3 -3.1h1.7v.7h-1.7zm-57.1 -30.8h1.7v.7h-1.7zm27 -23.2h1.7v.7h-1.7zm1 1h1.7v.7h-1.7zm6.9 19.5h1.7v.7h-1.7zm-14.9 7.4h1.7v.7h-1.7zm-9 -19.7h1.7v.7h-1.7zm3.3 7.2h1.7v.7h-1.7zm-8.6 6h1.7v.7h-1.7zm22.3 -4.3h1.7v.7h-1.7zm11 -3.9h1.7v.7h-1.7zm-3 -2.5h1.7v.7h-1.7zm-8.5 -10.3h1.7v.7h-1.7zm-4.5 13.6h1.7v.7h-1.7zm-10.1 -5h1.7v.7h-1.7zm2.1 -1.3h1.7v.7h-1.7zm-15.4 4h1.7v.7h-1.7zm12.4 -1.7h1.7v.7h-1.7zm-6.4 4.7h1.7v.7h-1.7zm25.6 -1.3h1.7v.7h-1.7zm-17.2 16.4h1.7v.7h-1.7zm18.3 -4.1h1.7v.7h-1.7zm2.8 -13h1.7v.7h-1.7zm-16.8 15.7h1.7v.7h-1.7zm-6.6 -13.7h1.7v.7h-1.7zm14 6.1h1.7v.7h-1.7zm-9.5 6.4h1.7v.7h-1.7zm1.2 -2.4h1.7v.7h-1.7zm16.4 -1.6h1.7v.7h-1.7zm-4.6 -18.8h1.7v.7h-1.7zm-25.2 5.6h1.7v.7h-1.7zm21.6 20.7h1.7v.7h-1.7zm-21.4 -11.3h1.7v.7h-1.7zm4.4 -11.2h1.7v.7h-1.7zm7.4 16.2h1.7v.7h-1.7zm6.8 4.5h1.7v.7h-1.7zm-15.3 -3.5h1.7v.7h-1.7zm25.5 -8.4h1.7v.7h-1.7zm-6.1 -7.5h1.7v.7h-1.7zm-21.4 2.3h1.7v.7h-1.7zm9.8 21.9h1.7v.7h-1.7zm-0.8 -2.3h1.7v.7h-1.7zm8.5 -11.3h1.7v.7h-1.7zm7 -12.5h1.7v.7h-1.7zm2.6 12.9h1.7v.7h-1.7zm-30.1 1.4h1.7v.7h-1.7z"/>
<rect x="45.8" y="258.5" width="190.2" height="179.8" fill="none" stroke="#1a1a1a" stroke-width="1.25"/>
<clipPath id="cbl"><rect x="45.2" y="257.9" width="191.4" height="181.0"/></clipPath>
<path clip-path="url(#cbl)" d="M67.4 256.0L214.1 440.3" stroke="#000" stroke-width="5.7" stroke-linecap="round" fill="none"/>
<text class="t" x="48.0" y="273.0" font-size="12">32 ms</text>
<text class="s k" x="38.5" y="442.4" text-anchor="end">-300</text>
<text class="s k" x="45.5" y="460.0" text-anchor="middle">-300</text>
<text class="s k" x="38.5" y="412.4" text-anchor="end">-200</text>
<text class="s k" x="77.2" y="460.0" text-anchor="middle">-200</text>
<text class="s k" x="38.5" y="382.5" text-anchor="end">-100</text>
<text class="s k" x="108.9" y="460.0" text-anchor="middle">-100</text>
<text class="s k" x="38.5" y="352.5" text-anchor="end">0</text>
<text class="s k" x="140.9" y="460.0" text-anchor="middle">0</text>
<text class="s k" x="38.5" y="322.5" text-anchor="end">100</text>
<text class="s k" x="172.6" y="460.0" text-anchor="middle">100</text>
<text class="s k" x="38.5" y="292.6" text-anchor="end">200</text>
<text class="s k" x="204.3" y="460.0" text-anchor="middle">200</text>
<text class="s k" x="38.5" y="262.6" text-anchor="end">300</text>
<text class="s k" x="236.0" y="460.0" text-anchor="middle">300</text>
<text class="s" x="135.4" y="475.7" text-anchor="middle">Echo IDT (µs)</text>
<text class="s" transform="translate(8.4 372.6) rotate(-90)" text-anchor="middle">Source IDT (µs)</text>
</g>
<g id="br">
<path class="gl" d="M330.6 257.3V437.3"/>
<path class="g" d="M298.8 407.3H489.5"/>
<path class="g" d="M362.4 257.3V437.3"/>
<path class="g" d="M298.8 377.3H489.5"/>
<path class="g" d="M394.1 257.3V437.3"/>
<path class="g" d="M298.8 347.3H489.5"/>
<path class="gd" d="M425.9 257.3V437.3"/>
<path class="gd" d="M298.8 317.3H489.5"/>
<path class="gd" d="M457.7 257.3V437.3"/>
<path class="gl" d="M298.8 287.3H489.5"/>
<rect x="299.6" y="274.6" width="31" height="14" fill="#fff"/>
<path class="tk" d="M294.3 437.3H301.3"/>
<path class="tk" d="M298.8 434.8V439.8"/>
<path class="tk" d="M295.8 422.3H301.3"/>
<path class="tk" d="M314.7 434.8V439.3"/>
<path class="tk" d="M294.3 407.3H301.3"/>
<path class="tk" d="M330.6 434.8V439.8"/>
<path class="tk" d="M295.8 392.3H301.3"/>
<path class="tk" d="M346.5 434.8V439.3"/>
<path class="tk" d="M294.3 377.3H301.3"/>
<path class="tk" d="M362.4 434.8V439.8"/>
<path class="tk" d="M295.8 362.3H301.3"/>
<path class="tk" d="M378.3 434.8V439.3"/>
<path class="tk" d="M294.3 347.3H301.3"/>
<path class="tk" d="M394.1 434.8V439.8"/>
<path class="tk" d="M295.8 332.3H301.3"/>
<path class="tk" d="M410.0 434.8V439.3"/>
<path class="tk" d="M294.3 317.3H301.3"/>
<path class="tk" d="M425.9 434.8V439.8"/>
<path class="tk" d="M295.8 302.3H301.3"/>
<path class="tk" d="M441.8 434.8V439.3"/>
<path class="tk" d="M294.3 287.3H301.3"/>
<path class="tk" d="M457.7 434.8V439.8"/>
<path class="tk" d="M295.8 272.3H301.3"/>
<path class="tk" d="M473.6 434.8V439.3"/>
<path class="tk" d="M294.3 257.3H301.3"/>
<path class="tk" d="M489.5 434.8V439.8"/>
<path class="o" d="M362 274.7h3v2.4h-3zm2 0.4h3v2.4h-3zm20.2 1.5h3v2.4h-3zm-2.9 3.3h3v2.4h-3zm1 -1h3v2.4h-3zm-16.8 6.8h3v2.4h-3zm5.2 4.4h3v2.4h-3zm3.9 0h3v2.4h-3zm16.4 -2.5h3v2.4h-3zm-54.4 5.4h3v2.4h-3zm40.9 2.3h3v2.4h-3zm2.9 -1.9h3v2.4h-3zm10.6 -1h3v2.4h-3zm0 5.4h3v2.4h-3zm-26.1 4.3h3v2.4h-3zm11.6 -1h3v2.4h-3zm4.8 1h3v2.4h-3zm-33.1 0h3v2.4h-3zm9 9.6h3v2.4h-3zm2.9 0h3v2.4h-3zm21.2 -3.9h3v2.4h-3zm3.9 2.4h3v2.4h-3zm-33.8 5.4h3v2.4h-3zm3.9 1.9h3v2.4h-3zm19.3 -2.9h3v2.4h-3zm7.7 3.9h3v2.4h-3zm8.7 -3.9h3v2.4h-3zm-36.7 6.7h3v2.4h-3zm4.9 0h3v2.4h-3zm3.8 1h3v2.4h-3zm17.4 -1.9h3v2.4h-3zm4.8 0h3v2.4h-3zm4.8 2.9h3v2.4h-3zm-41.5 4.8h3v2.4h-3zm3.9 0.6h3v2.4h-3zm10.6 0h3v2.4h-3zm18.3 -2.5h3v2.4h-3zm9.7 0.9h3v2.4h-3zm-48.2 3.9h3v2.4h-3zm13.5 2.9h3v2.4h-3zm24.1 0h3v2.4h-3zm-51.1 0.9h3v2.4h-3zm11.5 1h3v2.4h-3zm19.3 1.9h3v2.4h-3zm27 -2.9h3v2.4h-3zm-51.1 9.7h3v2.4h-3zm39.5 -2.9h3v2.4h-3zm5.8 0.9h3v2.4h-3zm28.5 -72.2h3v2.4h-3zm-9.6 13.5h3v2.4h-3zm11.2 0.5h3v2.4h-3zm54 -1.1h3v2.4h-3zm-7.4 3.8h3v2.4h-3zm-12.5 -6.1h3v2.4h-3zm-18.3 8.6h3v2.4h-3zm-5.8 2.5h3v2.4h-3zm-15.4 -0.5h3v2.4h-3zm35.7 1.3h3v2.4h-3zm-45.3 1.6h3v2.4h-3zm12.5 0.9h3v2.4h-3zm5.8 0h3v2.4h-3zm-20.3 1.9h3v2.4h-3zm11.6 2h3v2.4h-3zm2.9 2.9h3v2.4h-3zm2.9 0h3v2.4h-3zm4.8 1.9h3v2.4h-3zm2.9 -0.4h3v2.4h-3zm2.9 1.4h3v2.4h-3zm41 0.5h3v2.4h-3zm-65.1 1.4h3v2.4h-3zm2.9 0h3v2.4h-3zm5.8 0.9h3v2.4h-3zm8.6 -1.5h3v2.4h-3zm16.4 4.4h3v2.4h-3zm11.6 -0.5h3v2.4h-3zm3.8 0h3v2.4h-3zm-26 0.5h3v2.4h-3zm-9.6 2h3v2.4h-3zm3.8 0.9h3v2.4h-3zm-9.6 0h3v2.4h-3zm33.7 1h3v2.4h-3zm-22.1 1h3v2.4h-3zm31.8 2.3h3v2.4h-3zm-9.7 1.1h3v2.4h-3zm-2.9 0h3v2.4h-3zm-3.8 3.3h3v2.4h-3zm-24.1 -2.9h3v2.4h-3zm5.8 1.9h3v2.4h-3zm-15.5 1h3v2.4h-3zm-2.8 1h3v2.4h-3zm63.6 0h3v2.4h-3zm-21.2 2.9h3v2.4h-3zm-4.9 0h3v2.4h-3zm29.5 2.9h3v2.4h-3zm-18.9 -1h3v2.4h-3zm-4.2 2.9h3v2.4h-3zm-3.5 0h3v2.4h-3zm-3.8 1.9h3v2.4h-3zm-37.6 -2.9h3v2.4h-3zm16.4 0h3v2.4h-3zm5.8 1h3v2.4h-3zm-5.8 2.9h3v2.4h-3zm3.8 0.9h3v2.4h-3zm8.7 -0.3h3v2.4h-3zm3.9 0.3h3v2.4h-3zm-25.1 1h3v2.4h-3zm4.8 1h3v2.4h-3zm9.7 0.9h3v2.4h-3zm18.3 -0.9h3v2.4h-3zm3.8 2.9h3v2.4h-3zm-3.8 0h3v2.4h-3zm9.6 -2h3v2.4h-3zm8.7 0h3v2.4h-3zm1 2.9h3v2.4h-3zm13.4 1h3v2.4h-3zm-41.4 -1h3v2.4h-3zm0 3.9h3v2.4h-3zm10.6 -2.9h3v2.4h-3zm-14.5 -1.9h3v2.4h-3zm-10.6 0.9h3v2.4h-3zm55 5.8h3v2.4h-3zm-66.5 -21.2h3v2.4h-3zm-6.8 1h3v2.4h-3zm-69.4 36.6h3v2.4h-3zm2.3 0h3v2.4h-3zm8.7 11.9h3v2.4h-3zm-1.9 10.6h3v2.4h-3zm0 2.5h3v2.4h-3zm7.7 -29.5h3v2.4h-3zm14.5 -3.8h3v2.4h-3zm9.6 -2h3v2.4h-3zm2.9 4.9h3v2.4h-3zm7.7 7.7h3v2.4h-3zm8.7 -2h3v2.4h-3zm-19.3 23.2h3v2.4h-3zm3.9 -5.8h3v2.4h-3zm10.6 -2.9h3v2.4h-3zm-6.8 -1.9h3v2.4h-3zm-2.9 18.3h3v2.4h-3zm8.7 9.2h3v2.4h-3zm-19.3 0.4h3v2.4h-3zm0 3.9h3v2.4h-3zm30.9 -30.9h3v2.4h-3zm20.8 -26.9h3v2.4h-3zm13.5 -1h3v2.4h-3zm2.9 1h3v2.4h-3zm4.8 0h3v2.4h-3zm17.3 0.9h3v2.4h-3zm18 -2.9h3v2.4h-3zm-42.1 5.8h3v2.4h-3zm3.9 1h3v2.4h-3zm15.4 -1h3v2.4h-3zm12.5 1.6h3v2.4h-3zm0 4.2h3v2.4h-3zm-36.6 -1.9h3v2.4h-3zm3.9 0.9h3v2.4h-3zm2.9 1h3v2.4h-3zm4.8 -1h3v2.4h-3zm4.8 1.4h3v2.4h-3zm-17.3 2.5h3v2.4h-3zm9.6 2.5h3v2.4h-3zm15.4 1.3h3v2.4h-3zm4.8 -1.3h3v2.4h-3zm10.1 2.3h3v2.4h-3zm5.9 -2.3h3v2.4h-3zm-29.8 5.8h3v2.4h-3zm15.8 0.4h3v2.4h-3zm0.9 2.9h3v2.4h-3zm1 3.8h3v2.4h-3zm-38.6 2.9h3v2.4h-3zm20.3 0h3v2.4h-3zm8.3 0h3v2.4h-3zm-9.3 3.9h3v2.4h-3zm8.7 2.8h3v2.4h-3zm-26 -1.9h3v2.4h-3zm10.6 13.5h3v2.4h-3zm5.7 2.9h3v2.4h-3zm8.7 -4.8h3v2.4h-3zm2.9 1.9h3v2.4h-3zm-34.1 14.9h3v2.4h-3zm34.7 -1.4h3v2.4h-3zm-1.9 6.4h3v2.4h-3zm-49.8 -10.2h3v2.4h-3zm5.8 -44.4h3v2.4h-3zm15.4 3.9h3v2.4h-3zm-13.5 -16.4h3v2.4h-3zm-47.7 -35.7h3v2.4h-3zm32.5 3.6h3v2.4h-3zm21.3 -23.9h3v2.4h-3zm0 8.2h3v2.4h-3zm2.2 -4.1h3v2.4h-3zm6.5 5h3v2.4h-3zm4.3 0h3v2.4h-3zm-12.1 5.4h3v2.4h-3zm6.5 -3.8h3v2.4h-3zm4 3.4h3v2.4h-3zm-7.4 0.8h3v2.4h-3zm4.4 1.4h3v2.4h-3zm19.9 9.5h3v2.4h-3zm-42.2 -0.5h3v2.4h-3zm44.2 3.7h3v2.4h-3zm-3.4 -1h3v2.4h-3zm7 9.2h3v2.4h-3zm-3.8 -2.2h3v2.4h-3zm-6.4 3.1h3v2.4h-3zm-14.2 -3.1h3v2.4h-3zm-6.7 3h3v2.4h-3zm5.5 2.9h3v2.4h-3zm9.9 -3.7h3v2.4h-3zm0.7 1.7h3v2.4h-3zm-18.9 1.5h3v2.4h-3zm7.8 -0.5h3v2.4h-3zm19 1.1h3v2.4h-3zm-5.3 6.1h3v2.4h-3zm-0.6 4.3h3v2.4h-3zm-3.4 -6.7h3v2.4h-3zm-29.7 -16.4h3v2.4h-3zm30.2 25.4h3v2.4h-3zm0.9 0.8h3v2.4h-3zm8.3 -0.5h3v2.4h-3zm-8.4 2.9h3v2.4h-3zm2.3 4h3v2.4h-3zm-6.5 0.2h3v2.4h-3zm6.3 2.3h3v2.4h-3zm1.7 0.1h3v2.4h-3z"/>
<path class="f" d="M350.1 290.3h1.7v.7h-1.7zm18.7 -3.8h1.7v.7h-1.7zm22.8 -2.9h1.7v.7h-1.7zm-29.8 10.6h1.7v.7h-1.7zm4.7 2.9h1.7v.7h-1.7zm18.3 -2.9h1.7v.7h-1.7zm-13.5 5.8h1.7v.7h-1.7zm4.8 0.6h1.7v.7h-1.7zm5.8 1.3h1.7v.7h-1.7zm9.7 2.9h1.7v.7h-1.7zm-51.1 -2.9h1.7v.7h-1.7zm1.9 1h1.7v.7h-1.7zm-25.6 4.9h1.7v.7h-1.7zm43 -2h1.7v.7h-1.7zm26 0.5h1.7v.7h-1.7zm-11.6 0.8h1.7v.7h-1.7zm-36.6 3.9h1.7v.7h-1.7zm12.5 -0.4h1.7v.7h-1.7zm16.4 -2h1.7v.7h-1.7zm9.6 1h1.7v.7h-1.7zm3.9 1.9h1.7v.7h-1.7zm9.6 -0.9h1.7v.7h-1.7zm-41.4 3.4h1.7v.7h-1.7zm4.8 -0.5h1.7v.7h-1.7zm1.9 -1h1.7v.7h-1.7zm2 1.9h1.7v.7h-1.7zm14.4 -0.9h1.7v.7h-1.7zm7.7 0.9h1.7v.7h-1.7zm3.9 -0.9h1.7v.7h-1.7zm-57.8 1.3h1.7v.7h-1.7zm-3.9 3.5h1.7v.7h-1.7zm8.7 1.5h1.7v.7h-1.7zm0.9 -0.5h1.7v.7h-1.7zm-17.3 3.5h1.7v.7h-1.7zm22.3 0h1.7v.7h-1.7zm13.3 -4.5h1.7v.7h-1.7zm2.9 1h1.7v.7h-1.7zm10.6 -1h1.7v.7h-1.7zm3.9 -1h1.7v.7h-1.7zm7.7 1h1.7v.7h-1.7zm3.9 1h1.7v.7h-1.7zm5.7 -2h1.7v.7h-1.7zm6.8 1h1.7v.7h-1.7zm-47.2 5.8h1.7v.7h-1.7zm2.9 -0.3h1.7v.7h-1.7zm4.8 1.2h1.7v.7h-1.7zm3.8 -2.9h1.7v.7h-1.7zm5.9 1h1.7v.7h-1.7zm2.8 -1h1.7v.7h-1.7zm7.7 1h1.7v.7h-1.7zm3.9 1h1.7v.7h-1.7zm6.7 -1h1.7v.7h-1.7zm4.9 1h1.7v.7h-1.7zm4.8 -2h1.7v.7h-1.7zm-63.7 7.8h1.7v.7h-1.7zm10.6 0.9h1.7v.7h-1.7zm5.8 -3.8h1.7v.7h-1.7zm10.6 1.9h1.7v.7h-1.7zm5.9 0h1.7v.7h-1.7zm1.8 1.9h1.7v.7h-1.7zm7.8 -0.9h1.7v.7h-1.7zm2.8 -2h1.7v.7h-1.7zm2.9 1h1.7v.7h-1.7zm3.9 1h1.7v.7h-1.7zm5.8 -1h1.7v.7h-1.7zm-72.3 2.9h1.7v.7h-1.7zm25 1h1.7v.7h-1.7zm5.8 -1h1.7v.7h-1.7zm11.6 1h1.7v.7h-1.7zm6.7 0h1.7v.7h-1.7zm6.8 1h1.7v.7h-1.7zm3.8 1h1.7v.7h-1.7zm8.7 -2h1.7v.7h-1.7zm4.9 2h1.7v.7h-1.7zm4.8 -1h1.7v.7h-1.7zm-51.1 2.8h1.7v.7h-1.7zm2.9 -1h1.7v.7h-1.7zm2.9 1.6h1.7v.7h-1.7zm10.6 -1.6h1.7v.7h-1.7zm1.9 2h1.7v.7h-1.7zm10.6 0h1.7v.7h-1.7zm6.7 -1h1.7v.7h-1.7zm2.9 1.9h1.7v.7h-1.7zm4.8 -0.9h1.7v.7h-1.7zm5.8 0.9h1.7v.7h-1.7zm-55.8 1.4h1.7v.7h-1.7zm4.7 0h1.7v.7h-1.7zm3.9 0.6h1.7v.7h-1.7zm1.9 -1h1.7v.7h-1.7zm5.8 1.5h1.7v.7h-1.7zm9.7 -0.5h1.7v.7h-1.7zm6.7 0h1.7v.7h-1.7zm4.8 0.9h1.7v.7h-1.7zm3.9 -0.9h1.7v.7h-1.7zm4.8 0.9h1.7v.7h-1.7zm4.8 1h1.7v.7h-1.7zm5.8 -1h1.7v.7h-1.7zm-59.8 3.9h1.7v.7h-1.7zm25.1 -2.9h1.7v.7h-1.7zm1.9 1.9h1.7v.7h-1.7zm5.8 2.9h1.7v.7h-1.7zm2.9 0h1.7v.7h-1.7zm4.8 -1.9h1.7v.7h-1.7zm4.8 -1h1.7v.7h-1.7zm5.8 1.9h1.7v.7h-1.7zm5.9 -1.9h1.7v.7h-1.7zm60.6 -65h1.7v.7h-1.7zm-15.8 5.8h1.7v.7h-1.7zm-27 0h1.7v.7h-1.7zm-11 4.7h1.7v.7h-1.7zm13.5 1.5h1.7v.7h-1.7zm10.1 0h1.7v.7h-1.7zm8.1 1.5h1.7v.7h-1.7zm-3.3 3.3h1.7v.7h-1.7zm-19.2 1.9h1.7v.7h-1.7zm-4.9 2h1.7v.7h-1.7zm3.9 2.9h1.7v.7h-1.7zm-6.8 1.5h1.7v.7h-1.7zm42.8 0.4h1.7v.7h-1.7zm11.2 1.5h1.7v.7h-1.7zm6.3 0h1.7v.7h-1.7zm-28.5 1.5h1.7v.7h-1.7zm-30.8 -0.7h1.7v.7h-1.7zm-2.9 1.5h1.7v.7h-1.7zm9.7 2h1.7v.7h-1.7zm11.5 0.4h1.7v.7h-1.7zm-17.4 1.5h1.7v.7h-1.7zm2.9 2.9h1.7v.7h-1.7zm4 0h1.7v.7h-1.7zm25 -1h1.7v.7h-1.7zm-3 2h1.7v.7h-1.7zm-2.9 1.9h1.7v.7h-1.7zm24.1 -2.9h1.7v.7h-1.7zm-52 2.9h1.7v.7h-1.7zm13.5 0h1.7v.7h-1.7zm2.9 0.5h1.7v.7h-1.7zm11.5 2.4h1.7v.7h-1.7zm45 0h1.7v.7h-1.7zm-21.8 2.9h1.7v.7h-1.7zm2.9 0h1.7v.7h-1.7zm-55.9 -1h1.7v.7h-1.7zm10.7 -1h1.7v.7h-1.7zm1.8 2h1.7v.7h-1.7zm17.3 0h1.7v.7h-1.7zm3.9 2.9h1.7v.7h-1.7zm3 0.9h1.7v.7h-1.7zm-20.4 -2.3h1.7v.7h-1.7zm8.7 1.4h1.7v.7h-1.7zm-2.9 1.9h1.7v.7h-1.7zm32.8 2.9h1.7v.7h-1.7zm-52 -2.9h1.7v.7h-1.7zm6.8 1h1.7v.7h-1.7zm2.8 0.9h1.7v.7h-1.7zm-5.8 2h1.7v.7h-1.7zm21.2 0.5h1.7v.7h-1.7zm-27 1.5h1.7v.7h-1.7zm3.9 -1h1.7v.7h-1.7zm10.6 1h1.7v.7h-1.7zm46.8 1.2h1.7v.7h-1.7zm-12.1 4.5h1.7v.7h-1.7zm-13.4 -1h1.7v.7h-1.7zm-34.8 -1h1.7v.7h-1.7zm4.8 1h1.7v.7h-1.7zm4 1.9h1.7v.7h-1.7zm-6.9 1h1.7v.7h-1.7zm14.5 -4.8h1.7v.7h-1.7zm3.8 1.9h1.7v.7h-1.7zm4.9 4.8h1.7v.7h-1.7zm10.7 -1h1.7v.7h-1.7zm2.7 2h1.7v.7h-1.7zm-37.5 0.9h1.7v.7h-1.7zm6.8 -0.9h1.7v.7h-1.7zm3.8 -1h1.7v.7h-1.7zm2.8 1.9h1.7v.7h-1.7zm-93.1 4.6h1.7v.7h-1.7zm16.5 -0.3h1.7v.7h-1.7zm2 0h1.7v.7h-1.7zm6.6 -0.4h1.7v.7h-1.7zm16.4 -0.6h1.7v.7h-1.7zm4.8 -1h1.7v.7h-1.7zm4.8 1.6h1.7v.7h-1.7zm5.8 -1.2h1.7v.7h-1.7zm4.8 1.2h1.7v.7h-1.7zm4.8 -1.6h1.7v.7h-1.7zm5 1h1.7v.7h-1.7zm2.8 1.3h1.7v.7h-1.7zm-40.5 4.5h1.7v.7h-1.7zm-2.9 1.3h1.7v.7h-1.7zm14.4 -1.3h1.7v.7h-1.7zm3.9 -1h1.7v.7h-1.7zm4.8 1.6h1.7v.7h-1.7zm4.8 -1.1h1.7v.7h-1.7zm4.9 1.4h1.7v.7h-1.7zm4.8 -0.9h1.7v.7h-1.7zm4.8 0.9h1.7v.7h-1.7zm-53 2.9h1.7v.7h-1.7zm5.8 2.9h1.7v.7h-1.7zm2.9 -0.9h1.7v.7h-1.7zm2.8 1.9h1.7v.7h-1.7zm10.7 -2.9h1.7v.7h-1.7zm3.8 -1h1.7v.7h-1.7zm4.8 1.4h1.7v.7h-1.7zm4.8 -0.7h1.7v.7h-1.7zm4.9 1.3h1.7v.7h-1.7zm4.8 -1h1.7v.7h-1.7zm4.9 1.5h1.7v.7h-1.7zm3.8 -1.1h1.7v.7h-1.7zm-50.2 3.4h1.7v.7h-1.7zm3.9 1h1.7v.7h-1.7zm5.8 0.6h1.7v.7h-1.7zm4.8 0.4h1.7v.7h-1.7zm4.9 1.5h1.7v.7h-1.7zm4.7 -2.5h1.7v.7h-1.7zm3.9 1h1.7v.7h-1.7zm4.8 -1h1.7v.7h-1.7zm4.8 1.4h1.7v.7h-1.7zm4.8 -0.8h1.7v.7h-1.7zm5 1.3h1.7v.7h-1.7zm-54 3h1.7v.7h-1.7zm3.7 -0.5h1.7v.7h-1.7zm2 2h1.7v.7h-1.7zm17.3 0h1.7v.7h-1.7zm8.7 -1.5h1.7v.7h-1.7zm4.8 1h1.7v.7h-1.7zm4.8 -1h1.7v.7h-1.7zm5.8 1.5h1.7v.7h-1.7zm4.9 -1.2h1.7v.7h-1.7zm4.8 1.7h1.7v.7h-1.7zm-59.8 5.6h1.7v.7h-1.7zm-1.9 2.4h1.7v.7h-1.7zm18.3 0h1.7v.7h-1.7zm10.6 -3.3h1.7v.7h-1.7zm4.8 -1h1.7v.7h-1.7zm2.9 1.9h1.7v.7h-1.7zm5.8 -1.9h1.7v.7h-1.7zm5.8 1.6h1.7v.7h-1.7zm5.7 -0.6h1.7v.7h-1.7zm5 0.9h1.7v.7h-1.7zm-50.3 5.4h1.7v.7h-1.7zm4.9 -0.5h1.7v.7h-1.7zm0 1.9h1.7v.7h-1.7zm12.5 -2.9h1.7v.7h-1.7zm2.9 1.9h1.7v.7h-1.7zm4.8 -1.9h1.7v.7h-1.7zm6.8 1h1.7v.7h-1.7zm3.8 -1h1.7v.7h-1.7zm8.7 1h1.7v.7h-1.7zm4.9 -1h1.7v.7h-1.7zm3.8 1.5h1.7v.7h-1.7zm-30.8 7.8h1.7v.7h-1.7zm5.7 -5.4h1.7v.7h-1.7zm4.8 0.9h1.7v.7h-1.7zm10.6 1h1.7v.7h-1.7zm4.9 -1h1.7v.7h-1.7zm-56 12.2h1.7v.7h-1.7zm18.3 -5.4h1.7v.7h-1.7zm2.9 -1h1.7v.7h-1.7zm3.9 1.9h1.7v.7h-1.7zm7.7 -0.9h1.7v.7h-1.7zm2.9 -1h1.7v.7h-1.7zm2.9 1h1.7v.7h-1.7zm8.7 -1h1.7v.7h-1.7zm4.8 1h1.7v.7h-1.7zm4.9 -1h1.7v.7h-1.7zm3.8 1.9h1.7v.7h-1.7zm-35.7 4h1.7v.7h-1.7zm2.9 1.8h1.7v.7h-1.7zm11.6 -3.8h1.7v.7h-1.7zm3.8 4.8h1.7v.7h-1.7zm2.9 -2h1.7v.7h-1.7zm1.9 2h1.7v.7h-1.7zm6.8 -2h1.7v.7h-1.7zm4.8 1h1.7v.7h-1.7zm-28 3.3h1.7v.7h-1.7zm2.9 -0.4h1.7v.7h-1.7zm3.9 2.9h1.7v.7h-1.7zm5.8 1.9h1.7v.7h-1.7zm6.7 0h1.7v.7h-1.7zm5.9 1h1.7v.7h-1.7zm3.8 -3.9h1.7v.7h-1.7zm-44.4 7.4h1.7v.7h-1.7zm4.8 -1.6h1.7v.7h-1.7zm0 1.9h1.7v.7h-1.7zm6.4 -0.3h1.7v.7h-1.7zm12.9 0h1.7v.7h-1.7zm3.9 2h1.7v.7h-1.7zm14.4 5.1h1.7v.7h-1.7zm5.4 -69.4h1.7v.7h-1.7zm4.8 -1h1.7v.7h-1.7zm5 1.6h1.7v.7h-1.7zm4.7 -1.2h1.7v.7h-1.7zm7.7 0.6h1.7v.7h-1.7zm4.8 -1h1.7v.7h-1.7zm12.5 3.9h1.7v.7h-1.7zm2 1.9h1.7v.7h-1.7zm5.8 -2.9h1.7v.7h-1.7zm3.8 0h1.7v.7h-1.7zm-50.1 3.9h1.7v.7h-1.7zm4.8 0.9h1.7v.7h-1.7zm5.8 -1.4h1.7v.7h-1.7zm4.8 1.1h1.7v.7h-1.7zm4.8 -1.6h1.7v.7h-1.7zm5.8 1.6h1.7v.7h-1.7zm-27 4.2h1.7v.7h-1.7zm4.8 1.5h1.7v.7h-1.7zm5 -1.1h1.7v.7h-1.7zm5.6 0.6h1.7v.7h-1.7zm4.9 -1h1.7v.7h-1.7zm5.8 1.5h1.7v.7h-1.7zm4.8 -1.5h1.7v.7h-1.7zm27 1.9h1.7v.7h-1.7zm-56.9 3.9h1.7v.7h-1.7zm5.8 0.9h1.7v.7h-1.7zm4.8 -1.3h1.7v.7h-1.7zm4.8 1.3h1.7v.7h-1.7zm5.8 -0.9h1.7v.7h-1.7zm4.8 -1h1.7v.7h-1.7zm3.9 1.9h1.7v.7h-1.7zm4.9 -1.9h1.7v.7h-1.7zm3.7 -1h1.7v.7h-1.7zm-39.5 7.9h1.7v.7h-1.7zm4.8 -1h1.7v.7h-1.7zm5 1.8h1.7v.7h-1.7zm4.7 -1.3h1.7v.7h-1.7zm4.8 1.3h1.7v.7h-1.7zm5.8 -1.3h1.7v.7h-1.7zm8.7 0.5h1.7v.7h-1.7zm2 1.8h1.7v.7h-1.7zm-34.8 2.9h1.7v.7h-1.7zm4.8 -1h1.7v.7h-1.7zm4.8 1.9h1.7v.7h-1.7zm4.8 1h1.7v.7h-1.7zm12.6 -1.9h1.7v.7h-1.7zm1.9 1.9h1.7v.7h-1.7zm10.6 0h1.7v.7h-1.7zm4.8 -1.3h1.7v.7h-1.7zm2 2.3h1.7v.7h-1.7zm-47.3 1.9h1.7v.7h-1.7zm3.9 1h1.7v.7h-1.7zm4.9 -1.4h1.7v.7h-1.7zm5.7 -0.6h1.7v.7h-1.7zm8.7 2.9h1.7v.7h-1.7zm3.8 -2.9h1.7v.7h-1.7zm2.9 3.9h1.7v.7h-1.7zm-27.9 1.9h1.7v.7h-1.7zm6.8 0h1.7v.7h-1.7zm14.4 1.9h1.7v.7h-1.7zm4.8 0h1.7v.7h-1.7zm1.9 2h1.7v.7h-1.7zm-30.8 1.9h1.7v.7h-1.7zm14.4 -1h1.7v.7h-1.7zm3.9 0.4h1.7v.7h-1.7zm1.9 2.5h1.7v.7h-1.7zm5.8 -0.9h1.7v.7h-1.7zm1.9 -2h1.7v.7h-1.7zm-21.2 6.9h1.7v.7h-1.7zm3 -0.7h1.7v.7h-1.7zm2.8 -0.8h1.7v.7h-1.7zm5.4 2h1.7v.7h-1.7zm10 0h1.7v.7h-1.7zm8.8 -0.5h1.7v.7h-1.7zm-29 3.7h1.7v.7h-1.7zm-7.7 -2.9h1.7v.7h-1.7zm32.7 2h1.7v.7h-1.7zm23.2 2.9h1.7v.7h-1.7zm-4.9 -2h1.7v.7h-1.7zm-37.5 5.8h1.7v.7h-1.7zm-10.3 1.5h1.7v.7h-1.7zm18.9 3h1.7v.7h-1.7zm7.7 0h1.7v.7h-1.7zm5.9 -3.9h1.7v.7h-1.7zm11.5 8.1h1.7v.7h-1.7zm-2.9 2.9h1.7v.7h-1.7zm-90.3 -109.7h1.7v.7h-1.7zm2.5 6h1.7v.7h-1.7zm0.6 -2.4h1.7v.7h-1.7zm2.9 0.6h1.7v.7h-1.7zm3.4 2.8h1.7v.7h-1.7zm15.5 -2.6h1.7v.7h-1.7zm-22.7 6h1.7v.7h-1.7zm3.1 -0.4h1.7v.7h-1.7zm14.6 -0.8h1.7v.7h-1.7zm8.4 -2h1.7v.7h-1.7zm3.6 0.4h1.7v.7h-1.7zm-35.2 7.7h1.7v.7h-1.7zm1.5 1.6h1.7v.7h-1.7zm5.2 -1.5h1.7v.7h-1.7zm4.9 -0.6h1.7v.7h-1.7zm4.9 -1.5h1.7v.7h-1.7zm2.1 -0.6h1.7v.7h-1.7zm9.1 0.1h1.7v.7h-1.7zm2.1 2.4h1.7v.7h-1.7zm6.7 -2.2h1.7v.7h-1.7zm-41.3 10.4h1.7v.7h-1.7zm4.3 -5.8h1.7v.7h-1.7zm9 1.1h1.7v.7h-1.7zm5.6 1.4h1.7v.7h-1.7zm4.1 -0.5h1.7v.7h-1.7zm9.6 0.2h1.7v.7h-1.7zm2.4 0.8h1.7v.7h-1.7zm3.5 -2.4h1.7v.7h-1.7zm1.1 4.6h1.7v.7h-1.7zm3.7 -5.5h1.7v.7h-1.7zm-44.5 6.3h1.7v.7h-1.7zm7.7 0.4h1.7v.7h-1.7zm9.6 2.1h1.7v.7h-1.7zm6.7 -2.5h1.7v.7h-1.7zm7.6 0.3h1.7v.7h-1.7zm-1.6 1.1h1.7v.7h-1.7zm3.6 2.8h1.7v.7h-1.7zm1.7 -2.2h1.7v.7h-1.7zm5.7 -2.8h1.7v.7h-1.7zm6.4 3h1.7v.7h-1.7zm5.8 0.8h1.7v.7h-1.7zm-49.1 0.7h1.7v.7h-1.7zm0.2 -0.3h1.7v.7h-1.7zm5.8 0.2h1.7v.7h-1.7zm8.2 0.8h1.7v.7h-1.7zm0 -0.4h1.7v.7h-1.7zm14.8 2.5h1.7v.7h-1.7zm4.3 -4.7h1.7v.7h-1.7zm2 3h1.7v.7h-1.7zm2.6 3.4h1.7v.7h-1.7zm0.2 -2.9h1.7v.7h-1.7zm1 -1.6h1.7v.7h-1.7zm7.8 2h1.7v.7h-1.7zm-52.9 -0.3h1.7v.7h-1.7zm6.2 2.8h1.7v.7h-1.7zm0.4 1.1h1.7v.7h-1.7zm7.3 -3.5h1.7v.7h-1.7zm8.5 3.4h1.7v.7h-1.7zm6.2 -0.5h1.7v.7h-1.7zm3.3 -1.1h1.7v.7h-1.7zm4.3 1.4h1.7v.7h-1.7zm3 -2.9h1.7v.7h-1.7zm3.9 2.9h1.7v.7h-1.7zm3.6 1.4h1.7v.7h-1.7zm1.4 1.8h1.7v.7h-1.7zm6 -4.1h1.7v.7h-1.7zm-37.1 -0.3h1.7v.7h-1.7zm5.2 1.7h1.7v.7h-1.7zm2.4 3.2h1.7v.7h-1.7zm2.3 3.4h1.7v.7h-1.7zm3.3 -0.1h1.7v.7h-1.7zm1.9 -6h1.7v.7h-1.7zm3.8 1.6h1.7v.7h-1.7zm4.4 -0.9h1.7v.7h-1.7zm3 1.5h1.7v.7h-1.7zm5.4 1.4h1.7v.7h-1.7zm10.8 -8.6h1.7v.7h-1.7zm1.2 4h1.7v.7h-1.7zm-2.8 6.4h1.7v.7h-1.7zm-35.6 3.7h1.7v.7h-1.7zm4.1 -2.8h1.7v.7h-1.7zm3.8 -1.3h1.7v.7h-1.7zm9.3 3h1.7v.7h-1.7zm-3.2 0.2h1.7v.7h-1.7zm7.4 -1.9h1.7v.7h-1.7zm3.7 1.8h1.7v.7h-1.7zm4.5 0.9h1.7v.7h-1.7zm1.5 -1.6h1.7v.7h-1.7zm-26.5 3.7h1.7v.7h-1.7zm1.7 2.4h1.7v.7h-1.7zm5.7 1.1h1.7v.7h-1.7zm3.6 -4.4h1.7v.7h-1.7zm5.5 1.6h1.7v.7h-1.7zm8 -0.4h1.7v.7h-1.7zm2.6 0h1.7v.7h-1.7zm-47.3 7.2h1.7v.7h-1.7zm2.2 -2.6h1.7v.7h-1.7zm1.3 6h1.7v.7h-1.7zm11.9 -6h1.7v.7h-1.7zm3 -0.8h1.7v.7h-1.7zm5 0.1h1.7v.7h-1.7zm7.1 0.8h1.7v.7h-1.7zm2.2 3.3h1.7v.7h-1.7zm4.5 -3.3h1.7v.7h-1.7zm8.6 0.9h1.7v.7h-1.7zm1.9 2.4h1.7v.7h-1.7zm-48.3 -0.1h1.7v.7h-1.7zm1.5 4h1.7v.7h-1.7zm6 1.8h1.7v.7h-1.7zm3.9 0.3h1.7v.7h-1.7zm6.4 -2.2h1.7v.7h-1.7zm4.5 -3h1.7v.7h-1.7zm5.2 1.8h1.7v.7h-1.7zm5.8 0.6h1.7v.7h-1.7zm2 -0.4h1.7v.7h-1.7zm6.1 -1h1.7v.7h-1.7zm6.2 0.8h1.7v.7h-1.7zm-24 5.1h1.7v.7h-1.7zm3.5 2.2h1.7v.7h-1.7zm5.4 -1.6h1.7v.7h-1.7zm6.8 -0.2h1.7v.7h-1.7zm3.8 -2.4h1.7v.7h-1.7zm3.8 5.6h1.7v.7h-1.7zm-32 3.8h1.7v.7h-1.7zm3.7 -1.5h1.7v.7h-1.7zm4.2 1.6h1.7v.7h-1.7zm5.4 -4.2h1.7v.7h-1.7zm5.9 2.6h1.7v.7h-1.7zm4.8 1.8h1.7v.7h-1.7zm5.7 -0.7h1.7v.7h-1.7zm-26.7 7.7h1.7v.7h-1.7zm4.7 -1.4h1.7v.7h-1.7zm2.9 -2.1h1.7v.7h-1.7zm12 2.1h1.7v.7h-1.7zm8.1 -2.7h1.7v.7h-1.7zm2.5 3.1h1.7v.7h-1.7zm-29.3 5.7h1.7v.7h-1.7zm6.5 -4.9h1.7v.7h-1.7zm3.7 0h1.7v.7h-1.7zm7.9 4.8h1.7v.7h-1.7zm8 -2h1.7v.7h-1.7zm-34.4 4.2h1.7v.7h-1.7zm8.3 -0.1h1.7v.7h-1.7zm3.7 0h1.7v.7h-1.7zm1.5 0.6h1.7v.7h-1.7zm16.6 -0.7h1.7v.7h-1.7zm5.9 1.1h1.7v.7h-1.7zm3.3 0.2h1.7v.7h-1.7zm-37.2 6.3h1.7v.7h-1.7zm2.4 -1.8h1.7v.7h-1.7zm14.1 0.2h1.7v.7h-1.7zm1 1h1.7v.7h-1.7zm5.8 1h1.7v.7h-1.7zm-2.3 0.1h1.7v.7h-1.7zm7.2 0.8h1.7v.7h-1.7zm5.3 1.7h1.7v.7h-1.7zm-18.3 1.4h1.7v.7h-1.7zm5.4 3.6h1.7v.7h-1.7zm16.7 -0.7h1.7v.7h-1.7zm1 -58.7h1.7v.7h-1.7zm8.2 0.7h1.7v.7h-1.7zm4.8 3h1.7v.7h-1.7zm-9.7 5.9h1.7v.7h-1.7zm4.3 -1h1.7v.7h-1.7zm2.8 -0.2h1.7v.7h-1.7zm6.7 0.2h1.7v.7h-1.7zm-13.8 2.2h1.7v.7h-1.7zm4 1h1.7v.7h-1.7zm4.6 2.9h1.7v.7h-1.7zm3.4 -0.8h1.7v.7h-1.7zm8.6 -0.5h1.7v.7h-1.7zm-21.6 3.8h1.7v.7h-1.7zm3.3 1.5h1.7v.7h-1.7zm6.6 -2.2h1.7v.7h-1.7zm4.3 1h1.7v.7h-1.7zm7.9 1.9h1.7v.7h-1.7zm-24.7 3.6h1.7v.7h-1.7zm6.3 0h1.7v.7h-1.7zm7.1 1.4h1.7v.7h-1.7zm1.5 1.5h1.7v.7h-1.7zm3.9 -0.4h1.7v.7h-1.7zm6.8 0h1.7v.7h-1.7zm-22.9 5h1.7v.7h-1.7zm2.8 -1.5h1.7v.7h-1.7zm7 0.8h1.7v.7h-1.7zm5.7 2.9h1.7v.7h-1.7zm9.2 -4.7h1.7v.7h-1.7zm3.2 1.5h1.7v.7h-1.7zm-31.4 3.3h1.7v.7h-1.7zm4.5 3.1h1.7v.7h-1.7zm6.1 -4.4h1.7v.7h-1.7zm13.9 4.1h1.7v.7h-1.7zm4 -4.4h1.7v.7h-1.7zm1.5 3.2h1.7v.7h-1.7zm-23.2 5.6h1.7v.7h-1.7zm1.9 -0.2h1.7v.7h-1.7zm19.3 1.1h1.7v.7h-1.7zm0.2 -0.4h1.7v.7h-1.7zm3.6 0.5h1.7v.7h-1.7zm-30.3 0.9h1.7v.7h-1.7zm16.5 2.5h1.7v.7h-1.7zm2.3 1.8h1.7v.7h-1.7zm2 -1.1h1.7v.7h-1.7zm3.7 -1.5h1.7v.7h-1.7zm0.7 1.3h1.7v.7h-1.7zm-14 3.7h1.7v.7h-1.7zm-0.5 1h1.7v.7h-1.7zm8.8 3.5h1.7v.7h-1.7zm-13.7 2.5h1.7v.7h-1.7zm-4.3 -3.1h1.7v.7h-1.7zm-21.3 -29.1h1.7v.7h-1.7zm-2 -4.4h1.7v.7h-1.7zm1 -14.8h1.7v.7h-1.7zm18 12.7h1.7v.7h-1.7zm7.7 7.7h1.7v.7h-1.7zm-14.2 -7h1.7v.7h-1.7zm-9.7 -9.7h1.7v.7h-1.7zm-5.1 3.5h1.7v.7h-1.7zm17.1 16.8h1.7v.7h-1.7zm8.7 -6.8h1.7v.7h-1.7zm-15.7 -14.8h1.7v.7h-1.7zm0.3 7.2h1.7v.7h-1.7zm-12.8 4.7h1.7v.7h-1.7zm1.2 -14.6h1.7v.7h-1.7zm16.4 -1.8h1.7v.7h-1.7z"/>
<path class="f" d="M356.6 278h1.2v1.2h-1.2zm-38 90.6h1.2v1.2h-1.2zm0 19.2h1.2v1.2h-1.2z"/>
<rect x="298.8" y="257.3" width="190.7" height="180.0" fill="none" stroke="#1a1a1a" stroke-width="1.25"/>
<clipPath id="cbr"><rect x="298.2" y="256.7" width="191.9" height="181.2"/></clipPath>
<path clip-path="url(#cbr)" d="M315.0 260.4L469.6 430.4" stroke="#000" stroke-width="5.7" stroke-linecap="round" fill="none"/>
<text class="t" x="300.6" y="286.1" font-size="12">32 ms</text>
<text class="s k" x="292.0" y="441.4" text-anchor="end">-300</text>
<text class="s k" x="298.5" y="458.8" text-anchor="middle">-300</text>
<text class="s k" x="292.0" y="411.4" text-anchor="end">-200</text>
<text class="s k" x="330.3" y="458.8" text-anchor="middle">-200</text>
<text class="s k" x="292.0" y="381.4" text-anchor="end">-100</text>
<text class="s k" x="362.1" y="458.8" text-anchor="middle">-100</text>
<text class="s k" x="292.0" y="351.4" text-anchor="end">0</text>
<text class="s k" x="394.1" y="458.8" text-anchor="middle">0</text>
<text class="s k" x="292.0" y="321.4" text-anchor="end">100</text>
<text class="s k" x="425.9" y="458.8" text-anchor="middle">100</text>
<text class="s k" x="292.0" y="291.4" text-anchor="end">200</text>
<text class="s k" x="457.7" y="458.8" text-anchor="middle">200</text>
<text class="s k" x="292.0" y="261.4" text-anchor="end">300</text>
<text class="s k" x="489.5" y="458.8" text-anchor="middle">300</text>
<text class="s" x="393.9" y="472.5" text-anchor="middle">Source IDT (µs)</text>
<text class="s" transform="translate(263.3 359.8) rotate(-90)" text-anchor="middle">Echo IDT (µs)</text>
</g>
<g id="legend">
<rect x="179.3" y="485.7" width="153" height="29.3" fill="#000"/>
<rect x="176.8" y="483.2" width="152.8" height="29.3" fill="#fff" stroke="#000" stroke-width="1.2"/>
<ellipse cx="190.4" cy="498" rx="3.4" ry="2.5" fill="#000"/>
<text class="s" style="font-size:10.5px" x="210.3" y="502.6">"Left"</text>
<rect x="262.7" y="495.7" width="4.6" height="4.6" fill="#fff" stroke="#555" stroke-width=".7"/>
<text class="s" style="font-size:10.5px" x="284.4" y="500.4">"Right"</text>
</g>
</svg></body></html>
